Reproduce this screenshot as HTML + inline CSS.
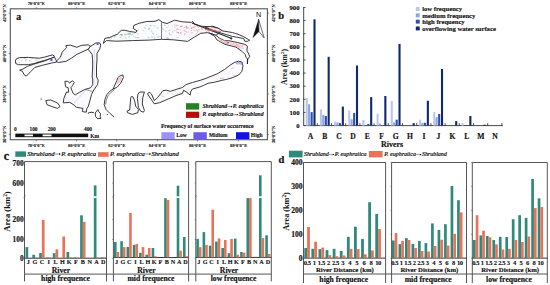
<!DOCTYPE html>
<html><head><meta charset="utf-8"><style>
html,body{margin:0;padding:0;background:#fff;width:550px;height:285px;overflow:hidden}
svg{display:block}
</style></head><body>
<svg width="550" height="285" viewBox="0 0 550 285">
<rect width="550" height="285" fill="#fff"/>
<line x1="36.20" y1="7.20" x2="36.20" y2="8.80" stroke="#444" stroke-width="0.6" />
<line x1="36.20" y1="139.70" x2="36.20" y2="141.30" stroke="#444" stroke-width="0.6" />
<text x="36.20" y="5.40" font-family='"Liberation Serif", serif' font-size="4.4" font-weight="bold" font-style="normal" text-anchor="middle" fill="#222" stroke="#222" stroke-width="0.15">78°0'0"E</text>
<text x="36.20" y="147.00" font-family='"Liberation Serif", serif' font-size="4.4" font-weight="bold" font-style="normal" text-anchor="middle" fill="#222" stroke="#222" stroke-width="0.15">78°0'0"E</text>
<line x1="76.60" y1="7.20" x2="76.60" y2="8.80" stroke="#444" stroke-width="0.6" />
<line x1="76.60" y1="139.70" x2="76.60" y2="141.30" stroke="#444" stroke-width="0.6" />
<text x="76.60" y="5.40" font-family='"Liberation Serif", serif' font-size="4.4" font-weight="bold" font-style="normal" text-anchor="middle" fill="#222" stroke="#222" stroke-width="0.15">80°0'0"E</text>
<text x="76.60" y="147.00" font-family='"Liberation Serif", serif' font-size="4.4" font-weight="bold" font-style="normal" text-anchor="middle" fill="#222" stroke="#222" stroke-width="0.15">80°0'0"E</text>
<line x1="116.80" y1="7.20" x2="116.80" y2="8.80" stroke="#444" stroke-width="0.6" />
<line x1="116.80" y1="139.70" x2="116.80" y2="141.30" stroke="#444" stroke-width="0.6" />
<text x="116.80" y="5.40" font-family='"Liberation Serif", serif' font-size="4.4" font-weight="bold" font-style="normal" text-anchor="middle" fill="#222" stroke="#222" stroke-width="0.15">82°0'0"E</text>
<text x="116.80" y="147.00" font-family='"Liberation Serif", serif' font-size="4.4" font-weight="bold" font-style="normal" text-anchor="middle" fill="#222" stroke="#222" stroke-width="0.15">82°0'0"E</text>
<line x1="157.40" y1="7.20" x2="157.40" y2="8.80" stroke="#444" stroke-width="0.6" />
<line x1="157.40" y1="139.70" x2="157.40" y2="141.30" stroke="#444" stroke-width="0.6" />
<text x="157.40" y="5.40" font-family='"Liberation Serif", serif' font-size="4.4" font-weight="bold" font-style="normal" text-anchor="middle" fill="#222" stroke="#222" stroke-width="0.15">84°0'0"E</text>
<text x="157.40" y="147.00" font-family='"Liberation Serif", serif' font-size="4.4" font-weight="bold" font-style="normal" text-anchor="middle" fill="#222" stroke="#222" stroke-width="0.15">84°0'0"E</text>
<line x1="197.60" y1="7.20" x2="197.60" y2="8.80" stroke="#444" stroke-width="0.6" />
<line x1="197.60" y1="139.70" x2="197.60" y2="141.30" stroke="#444" stroke-width="0.6" />
<text x="197.60" y="5.40" font-family='"Liberation Serif", serif' font-size="4.4" font-weight="bold" font-style="normal" text-anchor="middle" fill="#222" stroke="#222" stroke-width="0.15">86°0'0"E</text>
<text x="197.60" y="147.00" font-family='"Liberation Serif", serif' font-size="4.4" font-weight="bold" font-style="normal" text-anchor="middle" fill="#222" stroke="#222" stroke-width="0.15">86°0'0"E</text>
<line x1="238.50" y1="7.20" x2="238.50" y2="8.80" stroke="#444" stroke-width="0.6" />
<line x1="238.50" y1="139.70" x2="238.50" y2="141.30" stroke="#444" stroke-width="0.6" />
<text x="238.50" y="5.40" font-family='"Liberation Serif", serif' font-size="4.4" font-weight="bold" font-style="normal" text-anchor="middle" fill="#222" stroke="#222" stroke-width="0.15">88°0'0"E</text>
<text x="238.50" y="147.00" font-family='"Liberation Serif", serif' font-size="4.4" font-weight="bold" font-style="normal" text-anchor="middle" fill="#222" stroke="#222" stroke-width="0.15">88°0'0"E</text>
<line x1="8.70" y1="13.10" x2="10.30" y2="13.10" stroke="#444" stroke-width="0.6" />
<line x1="267.40" y1="13.10" x2="269.00" y2="13.10" stroke="#444" stroke-width="0.6" />
<text x="0.00" y="0.00" font-family='"Liberation Serif", serif' font-size="4.4" font-weight="bold" font-style="normal" text-anchor="middle" fill="#222" stroke="#222" stroke-width="0.15" transform="translate(6.0,13.1) rotate(-90)">42°0'0"N</text>
<text x="0.00" y="0.00" font-family='"Liberation Serif", serif' font-size="4.4" font-weight="bold" font-style="normal" text-anchor="middle" fill="#222" stroke="#222" stroke-width="0.15" transform="translate(274.6,13.1) rotate(-90)">42°0'0"N</text>
<line x1="8.70" y1="53.60" x2="10.30" y2="53.60" stroke="#444" stroke-width="0.6" />
<line x1="267.40" y1="53.60" x2="269.00" y2="53.60" stroke="#444" stroke-width="0.6" />
<text x="0.00" y="0.00" font-family='"Liberation Serif", serif' font-size="4.4" font-weight="bold" font-style="normal" text-anchor="middle" fill="#222" stroke="#222" stroke-width="0.15" transform="translate(6.0,53.6) rotate(-90)">40°0'0"N</text>
<text x="0.00" y="0.00" font-family='"Liberation Serif", serif' font-size="4.4" font-weight="bold" font-style="normal" text-anchor="middle" fill="#222" stroke="#222" stroke-width="0.15" transform="translate(274.6,53.6) rotate(-90)">40°0'0"N</text>
<line x1="8.70" y1="94.00" x2="10.30" y2="94.00" stroke="#444" stroke-width="0.6" />
<line x1="267.40" y1="94.00" x2="269.00" y2="94.00" stroke="#444" stroke-width="0.6" />
<text x="0.00" y="0.00" font-family='"Liberation Serif", serif' font-size="4.4" font-weight="bold" font-style="normal" text-anchor="middle" fill="#222" stroke="#222" stroke-width="0.15" transform="translate(6.0,94.0) rotate(-90)">38°0'0"N</text>
<text x="0.00" y="0.00" font-family='"Liberation Serif", serif' font-size="4.4" font-weight="bold" font-style="normal" text-anchor="middle" fill="#222" stroke="#222" stroke-width="0.15" transform="translate(274.6,94.0) rotate(-90)">38°0'0"N</text>
<line x1="8.70" y1="134.40" x2="10.30" y2="134.40" stroke="#444" stroke-width="0.6" />
<line x1="267.40" y1="134.40" x2="269.00" y2="134.40" stroke="#444" stroke-width="0.6" />
<text x="0.00" y="0.00" font-family='"Liberation Serif", serif' font-size="4.4" font-weight="bold" font-style="normal" text-anchor="middle" fill="#222" stroke="#222" stroke-width="0.15" transform="translate(6.0,134.4) rotate(-90)">36°0'0"N</text>
<text x="0.00" y="0.00" font-family='"Liberation Serif", serif' font-size="4.4" font-weight="bold" font-style="normal" text-anchor="middle" fill="#222" stroke="#222" stroke-width="0.15" transform="translate(274.6,134.4) rotate(-90)">36°0'0"N</text>
<rect x="10.3" y="8.8" width="0" height="0" fill="none"/>
<rect x="10.3" y="8.8" width="257.10" height="130.90" fill="none" stroke="#555" stroke-width="1.1"/>
<text x="16.20" y="20.30" font-family='"Liberation Serif", serif' font-size="9.8" font-weight="bold" font-style="normal" text-anchor="start" fill="#111"  stroke="#111" stroke-width="0.216">a</text>
<polygon points="15.3,60.9 16.4,58.7 19.6,57.6 28.4,57.4 34.9,57.9 39.3,58.2 44.7,57.1 52.3,54.9 54.5,56.0 53.4,57.6 44.7,60.4 33.8,63.6 28.4,64.7 18.5,64.7 15.8,63.6" stroke="#262626" stroke-width="0.9" fill="#fafafe" stroke-linejoin="round" />
<polygon points="19.6,70.2 22.9,69.1 27.3,66.4 33.8,64.2 44.7,60.9 50.2,58.7 54.5,57.1 56.2,60.4 56.7,62.0 51.3,63.1 42.5,65.3 34.9,67.4 30.5,71.8 26.2,76.2 24.0,74.5 22.4,71.3" stroke="#262626" stroke-width="0.9" fill="#fafafe" stroke-linejoin="round" />
<polygon points="56.1,61.4 60.5,57.1 62.1,52.2 66.5,47.8 65.9,45.6 70.3,45.1 76.8,47.3 81.2,45.4 88.3,44.8 90.4,46.2 88.8,48.9 76.8,54.4 71.4,58.2 65.9,61.4 58.3,62.5" stroke="#262626" stroke-width="0.9" fill="#fafafe" stroke-linejoin="round" />
<polygon points="89.9,46.7 92.6,45.1 95.9,42.9 99.7,42.9 100.8,45.1 99.7,48.9 97.0,53.3 97.0,59.8 96.5,66.0 96.5,76.9 98.2,80.2 97.6,84.5 93.8,90.0 91.6,94.4 88.4,106.2 86.7,108.9 86.2,112.2 82.4,111.6 82.9,108.4 76.4,107.3 74.2,105.1 69.8,102.4 63.3,102.9 63.8,98.5 66.5,92.0 68.7,92.2 68.2,87.8 65.5,86.7 64.9,81.3 67.6,81.3 69.8,82.9 72.5,80.7 74.2,82.4 72.5,85.6 70.9,87.8 73.1,93.3 75.3,94.9 79.6,92.2 85.1,89.4 90.5,87.8 92.7,84.5 92.7,79.1 92.2,76.9 92.7,66.0 92.6,59.8 92.1,54.4 88.3,49.5" stroke="#262626" stroke-width="0.9" fill="#fafafe" stroke-linejoin="round" />
<polygon points="45.8,100.6 50.5,99.9 57.6,103.0 60.0,106.5 57.6,108.4 51.7,106.5 47.0,104.7" stroke="#262626" stroke-width="0.9" fill="#fafafe" stroke-linejoin="round" />
<polygon points="95.2,113.0 97.9,109.5 98.8,111.8 100.6,113.5 100.2,116.5 101.0,118.4 97.4,118.6 95.6,116.6" stroke="#262626" stroke-width="0.9" fill="#fafafe" stroke-linejoin="round" />
<polygon points="122.9,74.9 123.4,77.6 120.7,83.1 116.9,87.4 113.1,89.1 116.9,80.4 118.0,77.6 119.6,76.0" stroke="#262626" stroke-width="0.9" fill="#fafafe" stroke-linejoin="round" />
<polygon points="131.4,96.4 133.0,96.9 134.6,100.7 135.7,106.2 138.4,109.4 137.9,112.7 132.4,114.4 127.5,112.7 127.0,111.1 129.7,110.0 130.3,102.9 130.8,97.5" stroke="#262626" stroke-width="0.9" fill="#fafafe" stroke-linejoin="round" />
<polygon points="137.9,94.2 139.5,92.0 144.4,92.0 142.8,97.5 142.3,104.0 144.4,110.5 143.4,112.2 140.6,111.1 138.4,107.3 137.4,98.5" stroke="#262626" stroke-width="0.9" fill="#fafafe" stroke-linejoin="round" />
<polygon points="148.2,92.9 149.8,92.4 151.5,94.0 154.2,100.5 157.4,97.8 162.9,90.7 166.2,90.2 170.5,91.3 177.1,89.1 182.5,87.5 185.8,84.7 192.3,82.5 200.0,80.4 205.9,78.4 216.8,74.0 224.4,69.6 229.9,65.3 234.3,62.5 238.6,61.2 241.9,62.0 243.0,65.8 241.9,71.3 238.6,75.1 232.1,77.8 226.6,79.4 221.2,80.5 214.6,82.2 208.1,83.3 203.7,85.4 200.0,86.9 192.3,89.1 190.7,91.8 190.2,95.1 186.9,92.4 183.6,90.2 182.5,93.4 176.0,95.6 168.4,98.9 159.6,102.7 154.2,103.8 147.6,94.0" stroke="#262626" stroke-width="0.9" fill="#fafafe" stroke-linejoin="round" />
<polygon points="103.3,43.4 104.9,38.4 109.8,37.4 117.4,34.1 121.3,30.3 125.1,30.3 129.4,31.4 136.0,32.4 137.1,30.8 133.3,28.6 133.8,25.4 139.3,23.2 146.9,21.5 155.0,21.3 158.8,19.6 162.6,22.4 167.0,23.5 174.6,20.2 182.3,21.8 191.5,22.4 192.6,21.3 194.3,24.0 200.8,26.2 209.5,26.7 212.8,26.2 218.1,28.2 222.4,30.9 215.9,35.3 209.4,33.1 207.3,32.7 200.8,33.3 194.3,37.1 187.7,41.4 173.5,39.8 161.5,39.3 149.1,40.1 132.7,40.6 116.4,41.2 106.5,40.6" stroke="#262626" stroke-width="0.9" fill="#fafafe" stroke-linejoin="round" />
<polygon points="205.0,27.1 210.5,26.5 218.1,28.2 222.4,30.9 232.3,32.5 237.7,34.2 243.2,36.4 248.6,39.6 249.7,40.2 247.5,41.3 244.8,41.3 243.7,38.5 237.7,37.4 232.3,36.4 226.8,34.7 215.9,31.5" stroke="#262626" stroke-width="0.9" fill="#fafafe" stroke-linejoin="round" />
<polygon points="209.4,33.1 215.9,35.3 219.2,38.0 224.6,40.7 228.7,40.7 237.8,42.6 245.1,44.4 247.4,46.2 246.9,50.8 248.8,54.0 249.7,56.7 247.8,59.0 247.4,59.0 246.0,57.2 245.1,54.4 242.4,51.7 236.0,47.1 225.0,44.4 216.8,39.8 214.8,36.4" stroke="#262626" stroke-width="0.9" fill="#fafafe" stroke-linejoin="round" />
<line x1="161.50" y1="22.40" x2="161.50" y2="39.30" stroke="#2a2a2a" stroke-width="0.6" />
<line x1="192" y1="22.9" x2="231.7" y2="38.5" stroke="#222" stroke-width="1.1"/>
<line x1="205" y1="29.4" x2="221" y2="31.6" stroke="#d86a6a" stroke-width="1.3" opacity="0.75"/>
<polygon points="219,38.6 228,41.4 237,43.6 244,45.5 241,48.5 233,45.8 224,43 217,40" fill="#eeb8b8" opacity="0.55"/>
<circle cx="231.3" cy="38.5" r="1.1" fill="#222"/>
<line x1="247.6" y1="59" x2="247.4" y2="64" stroke="#222" stroke-width="1.2"/>
<polyline points="87.8,113.3 89.5,112.6 91.6,112.2 93.8,112.7" stroke="#222" stroke-width="1.0" fill="none" stroke-linejoin="round" />
<rect x="40.60" y="98.60" width="1.20" height="0.90" fill="#222" />
<polyline points="113.5,88.7 109.8,91.2 106.7,94.8 104.8,99.8 104.2,104.7 106.1,109.6 109.8,113.3 114.1,117.0" stroke="#2a2a2a" stroke-width="0.9" fill="none" stroke-linejoin="round" />
<polyline points="114.5,89.5 111.0,92.3 108.0,95.8 106.2,100.3 105.6,104.5" stroke="#2a2a2a" stroke-width="0.6" fill="none" stroke-linejoin="round" />
<rect x="106.80" y="114.00" width="1.00" height="1.00" fill="#333" />
<line x1="85.10" y1="89.40" x2="92.70" y2="91.60" stroke="#2a2a2a" stroke-width="0.5" />
<line x1="74" y1="103" x2="86" y2="90" stroke="#a09be0" stroke-width="0.5" opacity="0.7"/>
<line x1="94.5" y1="50" x2="94" y2="88" stroke="#a09be0" stroke-width="0.6" opacity="0.5"/>
<clipPath id="mapclip"><polygon points="15.3,60.9 16.4,58.7 19.6,57.6 28.4,57.4 34.9,57.9 39.3,58.2 44.7,57.1 52.3,54.9 54.5,56.0 53.4,57.6 44.7,60.4 33.8,63.6 28.4,64.7 18.5,64.7 15.8,63.6"/><polygon points="19.6,70.2 22.9,69.1 27.3,66.4 33.8,64.2 44.7,60.9 50.2,58.7 54.5,57.1 56.2,60.4 56.7,62.0 51.3,63.1 42.5,65.3 34.9,67.4 30.5,71.8 26.2,76.2 24.0,74.5 22.4,71.3"/><polygon points="56.1,61.4 60.5,57.1 62.1,52.2 66.5,47.8 65.9,45.6 70.3,45.1 76.8,47.3 81.2,45.4 88.3,44.8 90.4,46.2 88.8,48.9 76.8,54.4 71.4,58.2 65.9,61.4 58.3,62.5"/><polygon points="89.9,46.7 92.6,45.1 95.9,42.9 99.7,42.9 100.8,45.1 99.7,48.9 97.0,53.3 97.0,59.8 96.5,66.0 96.5,76.9 98.2,80.2 97.6,84.5 93.8,90.0 91.6,94.4 88.4,106.2 86.7,108.9 86.2,112.2 82.4,111.6 82.9,108.4 76.4,107.3 74.2,105.1 69.8,102.4 63.3,102.9 63.8,98.5 66.5,92.0 68.7,92.2 68.2,87.8 65.5,86.7 64.9,81.3 67.6,81.3 69.8,82.9 72.5,80.7 74.2,82.4 72.5,85.6 70.9,87.8 73.1,93.3 75.3,94.9 79.6,92.2 85.1,89.4 90.5,87.8 92.7,84.5 92.7,79.1 92.2,76.9 92.7,66.0 92.6,59.8 92.1,54.4 88.3,49.5"/><polygon points="45.8,100.6 50.5,99.9 57.6,103.0 60.0,106.5 57.6,108.4 51.7,106.5 47.0,104.7"/><polygon points="95.2,113.0 97.9,109.5 98.8,111.8 100.6,113.5 100.2,116.5 101.0,118.4 97.4,118.6 95.6,116.6"/><polygon points="122.9,74.9 123.4,77.6 120.7,83.1 116.9,87.4 113.1,89.1 116.9,80.4 118.0,77.6 119.6,76.0"/><polygon points="131.4,96.4 133.0,96.9 134.6,100.7 135.7,106.2 138.4,109.4 137.9,112.7 132.4,114.4 127.5,112.7 127.0,111.1 129.7,110.0 130.3,102.9 130.8,97.5"/><polygon points="137.9,94.2 139.5,92.0 144.4,92.0 142.8,97.5 142.3,104.0 144.4,110.5 143.4,112.2 140.6,111.1 138.4,107.3 137.4,98.5"/><polygon points="148.2,92.9 149.8,92.4 151.5,94.0 154.2,100.5 157.4,97.8 162.9,90.7 166.2,90.2 170.5,91.3 177.1,89.1 182.5,87.5 185.8,84.7 192.3,82.5 200.0,80.4 205.9,78.4 216.8,74.0 224.4,69.6 229.9,65.3 234.3,62.5 238.6,61.2 241.9,62.0 243.0,65.8 241.9,71.3 238.6,75.1 232.1,77.8 226.6,79.4 221.2,80.5 214.6,82.2 208.1,83.3 203.7,85.4 200.0,86.9 192.3,89.1 190.7,91.8 190.2,95.1 186.9,92.4 183.6,90.2 182.5,93.4 176.0,95.6 168.4,98.9 159.6,102.7 154.2,103.8 147.6,94.0"/><polygon points="103.3,43.4 104.9,38.4 109.8,37.4 117.4,34.1 121.3,30.3 125.1,30.3 129.4,31.4 136.0,32.4 137.1,30.8 133.3,28.6 133.8,25.4 139.3,23.2 146.9,21.5 155.0,21.3 158.8,19.6 162.6,22.4 167.0,23.5 174.6,20.2 182.3,21.8 191.5,22.4 192.6,21.3 194.3,24.0 200.8,26.2 209.5,26.7 212.8,26.2 218.1,28.2 222.4,30.9 215.9,35.3 209.4,33.1 207.3,32.7 200.8,33.3 194.3,37.1 187.7,41.4 173.5,39.8 161.5,39.3 149.1,40.1 132.7,40.6 116.4,41.2 106.5,40.6"/><polygon points="205.0,27.1 210.5,26.5 218.1,28.2 222.4,30.9 232.3,32.5 237.7,34.2 243.2,36.4 248.6,39.6 249.7,40.2 247.5,41.3 244.8,41.3 243.7,38.5 237.7,37.4 232.3,36.4 226.8,34.7 215.9,31.5"/><polygon points="209.4,33.1 215.9,35.3 219.2,38.0 224.6,40.7 228.7,40.7 237.8,42.6 245.1,44.4 247.4,46.2 246.9,50.8 248.8,54.0 249.7,56.7 247.8,59.0 247.4,59.0 246.0,57.2 245.1,54.4 242.4,51.7 236.0,47.1 225.0,44.4 216.8,39.8 214.8,36.4"/></clipPath>
<g clip-path="url(#mapclip)">
<line x1="124.2" y1="36.0" x2="125.5" y2="36.2" stroke="#3c8c3c" stroke-width="0.6" opacity="0.55"/>
<line x1="150.5" y1="25.9" x2="151.4" y2="26.4" stroke="#3c8c3c" stroke-width="0.6" opacity="0.55"/>
<line x1="125.6" y1="34.3" x2="127.8" y2="34.2" stroke="#3c8c3c" stroke-width="0.6" opacity="0.55"/>
<line x1="164.9" y1="31.4" x2="166.6" y2="30.9" stroke="#3c8c3c" stroke-width="0.6" opacity="0.55"/>
<line x1="151.2" y1="36.7" x2="152.7" y2="37.1" stroke="#3c8c3c" stroke-width="0.6" opacity="0.55"/>
<line x1="153.7" y1="25.9" x2="155.5" y2="26.0" stroke="#3c8c3c" stroke-width="0.6" opacity="0.55"/>
<line x1="128.5" y1="33.2" x2="130.5" y2="33.1" stroke="#3c8c3c" stroke-width="0.6" opacity="0.55"/>
<line x1="156.9" y1="36.9" x2="158.7" y2="37.5" stroke="#3c8c3c" stroke-width="0.6" opacity="0.55"/>
<line x1="134.9" y1="37.4" x2="136.3" y2="38.1" stroke="#3c8c3c" stroke-width="0.6" opacity="0.55"/>
<line x1="167.8" y1="26.3" x2="168.8" y2="25.9" stroke="#3c8c3c" stroke-width="0.6" opacity="0.55"/>
<line x1="173.7" y1="30.9" x2="175.3" y2="30.6" stroke="#3c8c3c" stroke-width="0.6" opacity="0.55"/>
<line x1="142.5" y1="30.2" x2="143.8" y2="30.3" stroke="#3c8c3c" stroke-width="0.6" opacity="0.55"/>
<line x1="147.7" y1="37.2" x2="149.5" y2="37.9" stroke="#3c8c3c" stroke-width="0.6" opacity="0.55"/>
<line x1="166.2" y1="38.4" x2="168.0" y2="37.8" stroke="#3c8c3c" stroke-width="0.6" opacity="0.55"/>
<line x1="166.5" y1="38.0" x2="168.6" y2="38.1" stroke="#3c8c3c" stroke-width="0.6" opacity="0.55"/>
<line x1="156.5" y1="27.9" x2="158.5" y2="28.0" stroke="#3c8c3c" stroke-width="0.6" opacity="0.55"/>
<line x1="127.4" y1="33.3" x2="129.4" y2="34.1" stroke="#3c8c3c" stroke-width="0.6" opacity="0.55"/>
<line x1="114.0" y1="37.4" x2="115.4" y2="36.8" stroke="#3c8c3c" stroke-width="0.6" opacity="0.55"/>
<line x1="128.0" y1="37.2" x2="130.0" y2="36.5" stroke="#3c8c3c" stroke-width="0.6" opacity="0.55"/>
<line x1="149.8" y1="25.6" x2="151.6" y2="25.3" stroke="#3c8c3c" stroke-width="0.6" opacity="0.55"/>
<line x1="167.9" y1="38.2" x2="169.4" y2="39.0" stroke="#3c8c3c" stroke-width="0.6" opacity="0.55"/>
<line x1="129.1" y1="33.4" x2="130.7" y2="32.7" stroke="#3c8c3c" stroke-width="0.6" opacity="0.55"/>
<line x1="121.4" y1="35.2" x2="123.1" y2="34.7" stroke="#3c8c3c" stroke-width="0.6" opacity="0.55"/>
<line x1="110.9" y1="37.8" x2="112.1" y2="38.5" stroke="#3c8c3c" stroke-width="0.6" opacity="0.55"/>
<line x1="169.0" y1="30.1" x2="170.4" y2="30.1" stroke="#3c8c3c" stroke-width="0.6" opacity="0.55"/>
<line x1="151.8" y1="33.0" x2="153.4" y2="33.2" stroke="#3c8c3c" stroke-width="0.6" opacity="0.55"/>
<line x1="172.0" y1="31.8" x2="173.4" y2="32.2" stroke="#3c8c3c" stroke-width="0.6" opacity="0.55"/>
<line x1="124.2" y1="34.7" x2="126.3" y2="34.7" stroke="#3c8c3c" stroke-width="0.6" opacity="0.55"/>
<line x1="145.3" y1="25.2" x2="146.7" y2="25.3" stroke="#3c8c3c" stroke-width="0.6" opacity="0.55"/>
<line x1="109.4" y1="36.4" x2="111.0" y2="35.7" stroke="#3c8c3c" stroke-width="0.6" opacity="0.55"/>
<line x1="150.7" y1="31.3" x2="152.4" y2="31.1" stroke="#3c8c3c" stroke-width="0.6" opacity="0.55"/>
<line x1="156.1" y1="35.0" x2="156.9" y2="34.3" stroke="#3c8c3c" stroke-width="0.6" opacity="0.55"/>
<line x1="154.0" y1="38.0" x2="155.1" y2="37.9" stroke="#3c8c3c" stroke-width="0.6" opacity="0.55"/>
<line x1="148.3" y1="29.3" x2="149.6" y2="29.0" stroke="#3c8c3c" stroke-width="0.6" opacity="0.55"/>
<line x1="133.1" y1="36.3" x2="134.3" y2="36.1" stroke="#3c8c3c" stroke-width="0.6" opacity="0.55"/>
<line x1="160.5" y1="25.4" x2="162.1" y2="25.7" stroke="#3c8c3c" stroke-width="0.6" opacity="0.55"/>
<line x1="129.1" y1="34.2" x2="131.0" y2="33.8" stroke="#3c8c3c" stroke-width="0.6" opacity="0.55"/>
<line x1="120.7" y1="35.4" x2="122.5" y2="34.8" stroke="#3c8c3c" stroke-width="0.6" opacity="0.55"/>
<line x1="129.9" y1="34.8" x2="131.9" y2="34.7" stroke="#3c8c3c" stroke-width="0.6" opacity="0.55"/>
<line x1="166.2" y1="27.3" x2="167.4" y2="27.5" stroke="#3c8c3c" stroke-width="0.6" opacity="0.55"/>
<line x1="168.2" y1="31.1" x2="169.3" y2="30.5" stroke="#3c8c3c" stroke-width="0.6" opacity="0.55"/>
<line x1="144.0" y1="27.6" x2="145.9" y2="28.1" stroke="#3c8c3c" stroke-width="0.6" opacity="0.55"/>
<line x1="120.5" y1="34.5" x2="122.4" y2="34.8" stroke="#3c8c3c" stroke-width="0.6" opacity="0.55"/>
<line x1="162.8" y1="29.7" x2="163.8" y2="29.3" stroke="#3c8c3c" stroke-width="0.6" opacity="0.55"/>
<line x1="162.0" y1="28.7" x2="163.3" y2="28.5" stroke="#3c8c3c" stroke-width="0.6" opacity="0.55"/>
<line x1="136.5" y1="30.5" x2="138.6" y2="30.0" stroke="#3c8c3c" stroke-width="0.6" opacity="0.55"/>
<line x1="108.3" y1="38.2" x2="110.3" y2="39.0" stroke="#3c8c3c" stroke-width="0.6" opacity="0.55"/>
<line x1="137.5" y1="37.8" x2="139.6" y2="37.4" stroke="#3c8c3c" stroke-width="0.6" opacity="0.55"/>
<line x1="158.7" y1="36.3" x2="160.4" y2="36.3" stroke="#3c8c3c" stroke-width="0.6" opacity="0.55"/>
<line x1="127.7" y1="34.9" x2="128.8" y2="34.2" stroke="#3c8c3c" stroke-width="0.6" opacity="0.55"/>
<line x1="148.0" y1="28.9" x2="150.0" y2="28.1" stroke="#3c8c3c" stroke-width="0.6" opacity="0.55"/>
<line x1="169.4" y1="34.4" x2="171.5" y2="35.0" stroke="#3c8c3c" stroke-width="0.6" opacity="0.55"/>
<line x1="169.2" y1="32.8" x2="170.0" y2="33.2" stroke="#3c8c3c" stroke-width="0.6" opacity="0.55"/>
<line x1="119.7" y1="34.6" x2="121.4" y2="34.7" stroke="#3c8c3c" stroke-width="0.6" opacity="0.55"/>
<line x1="136.1" y1="37.7" x2="137.8" y2="37.4" stroke="#3c8c3c" stroke-width="0.6" opacity="0.55"/>
<line x1="125.2" y1="37.7" x2="126.6" y2="38.2" stroke="#3c8c3c" stroke-width="0.6" opacity="0.55"/>
<line x1="131.9" y1="34.1" x2="133.5" y2="34.6" stroke="#3c8c3c" stroke-width="0.6" opacity="0.55"/>
<line x1="119.6" y1="37.4" x2="121.7" y2="37.8" stroke="#3c8c3c" stroke-width="0.6" opacity="0.55"/>
<line x1="164.0" y1="25.1" x2="165.7" y2="25.7" stroke="#3c8c3c" stroke-width="0.6" opacity="0.55"/>
<line x1="111.4" y1="34.5" x2="112.6" y2="34.5" stroke="#3c8c3c" stroke-width="0.6" opacity="0.55"/>
<line x1="190.6" y1="28.7" x2="192.5" y2="27.9" stroke="#d83a3a" stroke-width="0.6" opacity="0.55"/>
<line x1="174.4" y1="25.3" x2="175.4" y2="24.6" stroke="#d83a3a" stroke-width="0.6" opacity="0.55"/>
<line x1="214.9" y1="32.5" x2="215.8" y2="32.5" stroke="#d83a3a" stroke-width="0.6" opacity="0.55"/>
<line x1="185.9" y1="27.1" x2="187.2" y2="27.4" stroke="#d83a3a" stroke-width="0.6" opacity="0.55"/>
<line x1="197.8" y1="27.6" x2="198.9" y2="27.3" stroke="#d83a3a" stroke-width="0.6" opacity="0.55"/>
<line x1="177.4" y1="29.6" x2="179.2" y2="29.4" stroke="#d83a3a" stroke-width="0.6" opacity="0.55"/>
<line x1="175.5" y1="25.8" x2="176.8" y2="26.0" stroke="#d83a3a" stroke-width="0.6" opacity="0.55"/>
<line x1="206.4" y1="27.8" x2="208.4" y2="28.0" stroke="#d83a3a" stroke-width="0.6" opacity="0.55"/>
<line x1="191.0" y1="27.7" x2="192.5" y2="28.0" stroke="#d83a3a" stroke-width="0.6" opacity="0.55"/>
<line x1="190.5" y1="30.9" x2="191.9" y2="30.5" stroke="#d83a3a" stroke-width="0.6" opacity="0.55"/>
<line x1="195.6" y1="31.0" x2="196.5" y2="30.8" stroke="#d83a3a" stroke-width="0.6" opacity="0.55"/>
<line x1="190.7" y1="32.8" x2="192.8" y2="32.6" stroke="#d83a3a" stroke-width="0.6" opacity="0.55"/>
<line x1="211.5" y1="31.9" x2="212.7" y2="31.9" stroke="#d83a3a" stroke-width="0.6" opacity="0.55"/>
<line x1="177.4" y1="32.1" x2="179.1" y2="32.8" stroke="#d83a3a" stroke-width="0.6" opacity="0.55"/>
<line x1="206.9" y1="30.7" x2="208.7" y2="30.8" stroke="#d83a3a" stroke-width="0.6" opacity="0.55"/>
<line x1="176.5" y1="29.9" x2="177.3" y2="29.3" stroke="#d83a3a" stroke-width="0.6" opacity="0.55"/>
<line x1="206.1" y1="24.4" x2="207.0" y2="23.8" stroke="#d83a3a" stroke-width="0.6" opacity="0.55"/>
<line x1="210.7" y1="25.8" x2="211.6" y2="26.3" stroke="#d83a3a" stroke-width="0.6" opacity="0.55"/>
<line x1="177.3" y1="32.4" x2="179.1" y2="33.0" stroke="#d83a3a" stroke-width="0.6" opacity="0.55"/>
<line x1="213.9" y1="29.8" x2="215.8" y2="29.0" stroke="#d83a3a" stroke-width="0.6" opacity="0.55"/>
<line x1="205.8" y1="29.1" x2="207.6" y2="28.5" stroke="#d83a3a" stroke-width="0.6" opacity="0.55"/>
<line x1="205.0" y1="33.3" x2="205.8" y2="33.1" stroke="#d83a3a" stroke-width="0.6" opacity="0.55"/>
<line x1="196.8" y1="32.3" x2="198.0" y2="31.8" stroke="#d83a3a" stroke-width="0.6" opacity="0.55"/>
<line x1="183.0" y1="30.2" x2="184.9" y2="30.0" stroke="#d83a3a" stroke-width="0.6" opacity="0.55"/>
<line x1="188.2" y1="28.0" x2="189.5" y2="27.8" stroke="#d83a3a" stroke-width="0.6" opacity="0.55"/>
<line x1="175.7" y1="29.0" x2="177.8" y2="28.9" stroke="#d83a3a" stroke-width="0.6" opacity="0.55"/>
<line x1="204.9" y1="25.6" x2="206.7" y2="26.0" stroke="#d83a3a" stroke-width="0.6" opacity="0.55"/>
<line x1="201.6" y1="29.2" x2="203.1" y2="29.4" stroke="#d83a3a" stroke-width="0.6" opacity="0.55"/>
<line x1="211.5" y1="25.5" x2="212.4" y2="25.9" stroke="#d83a3a" stroke-width="0.6" opacity="0.55"/>
<line x1="212.3" y1="29.2" x2="213.8" y2="29.5" stroke="#d83a3a" stroke-width="0.6" opacity="0.55"/>
<line x1="180.2" y1="26.7" x2="181.3" y2="26.8" stroke="#d83a3a" stroke-width="0.6" opacity="0.55"/>
<line x1="185.9" y1="26.3" x2="187.6" y2="27.0" stroke="#d83a3a" stroke-width="0.6" opacity="0.55"/>
<line x1="185.0" y1="31.1" x2="186.4" y2="31.6" stroke="#d83a3a" stroke-width="0.6" opacity="0.55"/>
<line x1="197.7" y1="26.7" x2="198.8" y2="25.9" stroke="#d83a3a" stroke-width="0.6" opacity="0.55"/>
<line x1="193.1" y1="27.8" x2="194.1" y2="27.6" stroke="#d83a3a" stroke-width="0.6" opacity="0.55"/>
<line x1="186.2" y1="31.7" x2="187.2" y2="32.5" stroke="#d83a3a" stroke-width="0.6" opacity="0.55"/>
<line x1="193.1" y1="30.0" x2="194.6" y2="30.5" stroke="#d83a3a" stroke-width="0.6" opacity="0.55"/>
<line x1="208.2" y1="29.6" x2="209.6" y2="29.9" stroke="#d83a3a" stroke-width="0.6" opacity="0.55"/>
<line x1="209.7" y1="28.0" x2="211.5" y2="28.7" stroke="#d83a3a" stroke-width="0.6" opacity="0.55"/>
<line x1="192.6" y1="26.3" x2="193.7" y2="26.6" stroke="#d83a3a" stroke-width="0.6" opacity="0.55"/>
<line x1="201.7" y1="33.6" x2="203.7" y2="33.2" stroke="#d83a3a" stroke-width="0.6" opacity="0.55"/>
<line x1="180.3" y1="26.6" x2="181.4" y2="26.9" stroke="#d83a3a" stroke-width="0.6" opacity="0.55"/>
<line x1="209.8" y1="33.0" x2="210.9" y2="33.6" stroke="#d83a3a" stroke-width="0.6" opacity="0.55"/>
<line x1="185.8" y1="28.2" x2="187.6" y2="27.6" stroke="#d83a3a" stroke-width="0.6" opacity="0.55"/>
<line x1="176.1" y1="32.3" x2="177.3" y2="32.1" stroke="#d83a3a" stroke-width="0.6" opacity="0.55"/>
<line x1="197.5" y1="30.8" x2="198.3" y2="30.5" stroke="#d83a3a" stroke-width="0.6" opacity="0.55"/>
<line x1="191.2" y1="28.9" x2="192.3" y2="29.0" stroke="#d83a3a" stroke-width="0.6" opacity="0.55"/>
<line x1="214.0" y1="27.9" x2="215.6" y2="27.3" stroke="#d83a3a" stroke-width="0.6" opacity="0.55"/>
<line x1="184.1" y1="30.7" x2="185.0" y2="31.3" stroke="#d83a3a" stroke-width="0.6" opacity="0.55"/>
<line x1="212.0" y1="25.0" x2="214.1" y2="24.8" stroke="#d83a3a" stroke-width="0.6" opacity="0.55"/>
<line x1="206.0" y1="31.6" x2="207.2" y2="31.9" stroke="#d83a3a" stroke-width="0.6" opacity="0.55"/>
<line x1="200.8" y1="32.1" x2="202.0" y2="32.5" stroke="#d83a3a" stroke-width="0.6" opacity="0.55"/>
<line x1="214.3" y1="30.7" x2="215.8" y2="30.1" stroke="#d83a3a" stroke-width="0.6" opacity="0.55"/>
<line x1="193.7" y1="27.5" x2="195.5" y2="27.8" stroke="#d83a3a" stroke-width="0.6" opacity="0.55"/>
<line x1="196.9" y1="25.8" x2="198.6" y2="26.0" stroke="#d83a3a" stroke-width="0.6" opacity="0.55"/>
<line x1="179.9" y1="32.9" x2="181.6" y2="32.3" stroke="#d83a3a" stroke-width="0.6" opacity="0.55"/>
<line x1="213.0" y1="25.4" x2="214.3" y2="25.8" stroke="#d83a3a" stroke-width="0.6" opacity="0.55"/>
<line x1="198.3" y1="29.5" x2="200.0" y2="29.5" stroke="#d83a3a" stroke-width="0.6" opacity="0.55"/>
<line x1="185.7" y1="25.8" x2="186.6" y2="26.1" stroke="#d83a3a" stroke-width="0.6" opacity="0.55"/>
<line x1="205.2" y1="29.4" x2="207.0" y2="29.2" stroke="#d83a3a" stroke-width="0.6" opacity="0.55"/>
<line x1="183.7" y1="27.8" x2="185.7" y2="27.1" stroke="#d83a3a" stroke-width="0.6" opacity="0.55"/>
<line x1="194.2" y1="26.5" x2="196.1" y2="26.2" stroke="#d83a3a" stroke-width="0.6" opacity="0.55"/>
<line x1="186.6" y1="28.0" x2="188.2" y2="28.5" stroke="#d83a3a" stroke-width="0.6" opacity="0.55"/>
<line x1="187.5" y1="32.5" x2="188.5" y2="32.1" stroke="#d83a3a" stroke-width="0.6" opacity="0.55"/>
<line x1="176.4" y1="25.1" x2="178.3" y2="25.5" stroke="#d83a3a" stroke-width="0.6" opacity="0.55"/>
<line x1="180.1" y1="25.9" x2="181.5" y2="26.3" stroke="#d83a3a" stroke-width="0.6" opacity="0.55"/>
<line x1="207.9" y1="31.5" x2="209.5" y2="30.9" stroke="#d83a3a" stroke-width="0.6" opacity="0.55"/>
<line x1="189.5" y1="25.9" x2="191.1" y2="26.0" stroke="#d83a3a" stroke-width="0.6" opacity="0.55"/>
<line x1="180.9" y1="26.5" x2="182.8" y2="25.7" stroke="#d83a3a" stroke-width="0.6" opacity="0.55"/>
<line x1="207.3" y1="32.9" x2="209.5" y2="32.7" stroke="#d83a3a" stroke-width="0.6" opacity="0.55"/>
<line x1="196.3" y1="29.8" x2="198.0" y2="30.6" stroke="#d83a3a" stroke-width="0.6" opacity="0.55"/>
<line x1="202.2" y1="27.0" x2="204.2" y2="27.0" stroke="#d83a3a" stroke-width="0.6" opacity="0.55"/>
<line x1="198.5" y1="31.3" x2="199.3" y2="31.7" stroke="#d83a3a" stroke-width="0.6" opacity="0.55"/>
<line x1="201.1" y1="28.9" x2="202.7" y2="28.9" stroke="#d83a3a" stroke-width="0.6" opacity="0.55"/>
<line x1="180.5" y1="29.3" x2="181.4" y2="29.3" stroke="#d83a3a" stroke-width="0.6" opacity="0.55"/>
<line x1="200.4" y1="28.4" x2="202.0" y2="29.2" stroke="#d83a3a" stroke-width="0.6" opacity="0.55"/>
<line x1="211.3" y1="25.4" x2="213.2" y2="25.6" stroke="#d83a3a" stroke-width="0.6" opacity="0.55"/>
<line x1="174.2" y1="27.6" x2="175.4" y2="26.9" stroke="#d83a3a" stroke-width="0.6" opacity="0.55"/>
<line x1="195.7" y1="33.3" x2="197.0" y2="33.9" stroke="#d83a3a" stroke-width="0.6" opacity="0.55"/>
<line x1="202.6" y1="25.3" x2="204.6" y2="25.5" stroke="#d83a3a" stroke-width="0.6" opacity="0.55"/>
<line x1="241.8" y1="48.4" x2="243.6" y2="48.2" stroke="#d03030" stroke-width="0.6" opacity="0.5"/>
<line x1="238.2" y1="48.7" x2="240.2" y2="48.6" stroke="#d03030" stroke-width="0.6" opacity="0.5"/>
<line x1="236.7" y1="46.0" x2="237.7" y2="45.3" stroke="#d03030" stroke-width="0.6" opacity="0.5"/>
<line x1="216.3" y1="40.3" x2="217.4" y2="40.3" stroke="#d03030" stroke-width="0.6" opacity="0.5"/>
<line x1="235.0" y1="45.9" x2="236.4" y2="46.1" stroke="#d03030" stroke-width="0.6" opacity="0.5"/>
<line x1="223.1" y1="42.9" x2="225.0" y2="42.7" stroke="#d03030" stroke-width="0.6" opacity="0.5"/>
<line x1="219.4" y1="43.9" x2="221.2" y2="43.7" stroke="#d03030" stroke-width="0.6" opacity="0.5"/>
<line x1="225.1" y1="43.6" x2="226.8" y2="43.2" stroke="#d03030" stroke-width="0.6" opacity="0.5"/>
<line x1="214.1" y1="39.9" x2="216.0" y2="39.3" stroke="#d03030" stroke-width="0.6" opacity="0.5"/>
<line x1="227.8" y1="42.7" x2="228.9" y2="42.1" stroke="#d03030" stroke-width="0.6" opacity="0.5"/>
<line x1="226.1" y1="42.2" x2="227.0" y2="41.6" stroke="#d03030" stroke-width="0.6" opacity="0.5"/>
<line x1="219.0" y1="42.1" x2="219.9" y2="41.3" stroke="#d03030" stroke-width="0.6" opacity="0.5"/>
<line x1="227.4" y1="43.6" x2="229.2" y2="42.9" stroke="#d03030" stroke-width="0.6" opacity="0.5"/>
<line x1="226.1" y1="43.2" x2="226.9" y2="44.0" stroke="#d03030" stroke-width="0.6" opacity="0.5"/>
<line x1="220.6" y1="40.7" x2="222.0" y2="40.2" stroke="#d03030" stroke-width="0.6" opacity="0.5"/>
<line x1="232.7" y1="44.4" x2="233.6" y2="43.7" stroke="#d03030" stroke-width="0.6" opacity="0.5"/>
<line x1="235.8" y1="44.8" x2="237.7" y2="44.7" stroke="#d03030" stroke-width="0.6" opacity="0.5"/>
<line x1="242.0" y1="46.2" x2="243.1" y2="45.8" stroke="#d03030" stroke-width="0.6" opacity="0.5"/>
<line x1="238.4" y1="47.2" x2="239.7" y2="46.5" stroke="#d03030" stroke-width="0.6" opacity="0.5"/>
<line x1="234.5" y1="48.0" x2="236.1" y2="47.2" stroke="#d03030" stroke-width="0.6" opacity="0.5"/>
<line x1="111.2" y1="33.5" x2="112.3" y2="32.7" stroke="#5050e0" stroke-width="0.6" opacity="0.45"/>
<line x1="113.8" y1="36.3" x2="115.8" y2="35.8" stroke="#5050e0" stroke-width="0.6" opacity="0.45"/>
<line x1="212.2" y1="35.4" x2="214.1" y2="36.1" stroke="#5050e0" stroke-width="0.6" opacity="0.45"/>
<line x1="208.6" y1="33.2" x2="209.8" y2="33.3" stroke="#5050e0" stroke-width="0.6" opacity="0.45"/>
<line x1="209.3" y1="33.4" x2="210.5" y2="34.0" stroke="#5050e0" stroke-width="0.6" opacity="0.45"/>
<line x1="120.3" y1="34.9" x2="121.5" y2="35.2" stroke="#5050e0" stroke-width="0.6" opacity="0.45"/>
<line x1="207.4" y1="33.9" x2="209.2" y2="34.2" stroke="#5050e0" stroke-width="0.6" opacity="0.45"/>
<line x1="197.4" y1="35.8" x2="199.5" y2="35.5" stroke="#5050e0" stroke-width="0.6" opacity="0.45"/>
<line x1="152.4" y1="34.1" x2="154.3" y2="34.1" stroke="#5050e0" stroke-width="0.6" opacity="0.45"/>
<line x1="136.8" y1="33.8" x2="138.6" y2="34.0" stroke="#5050e0" stroke-width="0.6" opacity="0.45"/>
<line x1="184.0" y1="34.9" x2="185.5" y2="34.4" stroke="#5050e0" stroke-width="0.6" opacity="0.45"/>
<line x1="184.0" y1="33.1" x2="185.5" y2="33.5" stroke="#5050e0" stroke-width="0.6" opacity="0.45"/>
<line x1="180.5" y1="33.5" x2="181.6" y2="34.0" stroke="#5050e0" stroke-width="0.6" opacity="0.45"/>
<line x1="176.7" y1="37.4" x2="178.8" y2="37.3" stroke="#5050e0" stroke-width="0.6" opacity="0.45"/>
<line x1="204.0" y1="36.7" x2="205.2" y2="36.5" stroke="#5050e0" stroke-width="0.6" opacity="0.45"/>
<line x1="115.7" y1="35.0" x2="117.8" y2="34.4" stroke="#5050e0" stroke-width="0.6" opacity="0.45"/>
<line x1="168.9" y1="33.6" x2="169.8" y2="33.8" stroke="#5050e0" stroke-width="0.6" opacity="0.45"/>
<line x1="133.8" y1="33.2" x2="134.8" y2="33.5" stroke="#5050e0" stroke-width="0.6" opacity="0.45"/>
<line x1="36.7" y1="58.5" x2="37.9" y2="59.3" stroke="#c04040" stroke-width="0.6" opacity="0.45"/>
<line x1="25.0" y1="60.7" x2="26.4" y2="61.2" stroke="#c04040" stroke-width="0.6" opacity="0.45"/>
<line x1="37.3" y1="61.7" x2="38.9" y2="61.2" stroke="#c04040" stroke-width="0.6" opacity="0.45"/>
<line x1="23.7" y1="58.8" x2="25.6" y2="58.2" stroke="#c04040" stroke-width="0.6" opacity="0.45"/>
<line x1="18.8" y1="62.4" x2="19.8" y2="63.0" stroke="#c04040" stroke-width="0.6" opacity="0.45"/>
<line x1="20.7" y1="60.4" x2="21.9" y2="60.9" stroke="#c04040" stroke-width="0.6" opacity="0.45"/>
<line x1="37.7" y1="61.1" x2="39.6" y2="61.7" stroke="#c04040" stroke-width="0.6" opacity="0.45"/>
<line x1="29.1" y1="60.9" x2="30.5" y2="60.3" stroke="#c04040" stroke-width="0.6" opacity="0.45"/>
<line x1="44.7" y1="60.9" x2="46.7" y2="60.4" stroke="#3c8c3c" stroke-width="0.6" opacity="0.45"/>
<line x1="35.3" y1="60.4" x2="37.1" y2="59.7" stroke="#3c8c3c" stroke-width="0.6" opacity="0.45"/>
<line x1="29.1" y1="60.4" x2="30.0" y2="60.5" stroke="#3c8c3c" stroke-width="0.6" opacity="0.45"/>
<line x1="41.5" y1="60.2" x2="43.2" y2="60.4" stroke="#3c8c3c" stroke-width="0.6" opacity="0.45"/>
<line x1="24.9" y1="59.9" x2="27.0" y2="59.6" stroke="#3c8c3c" stroke-width="0.6" opacity="0.45"/>
<line x1="31.8" y1="58.8" x2="32.9" y2="58.3" stroke="#3c8c3c" stroke-width="0.6" opacity="0.45"/>
<line x1="232.6" y1="75.4" x2="234.6" y2="76.2" stroke="#d05050" stroke-width="0.6" opacity="0.35"/>
<line x1="207.7" y1="83.5" x2="209.3" y2="83.3" stroke="#d05050" stroke-width="0.6" opacity="0.35"/>
<line x1="233.9" y1="75.5" x2="236.1" y2="75.5" stroke="#d05050" stroke-width="0.6" opacity="0.35"/>
<line x1="220.3" y1="78.1" x2="222.5" y2="78.8" stroke="#d05050" stroke-width="0.6" opacity="0.35"/>
<line x1="182.8" y1="91.0" x2="183.8" y2="90.3" stroke="#d05050" stroke-width="0.6" opacity="0.35"/>
<line x1="216.3" y1="79.0" x2="217.9" y2="79.2" stroke="#d05050" stroke-width="0.6" opacity="0.35"/>
<line x1="163.2" y1="96.3" x2="164.4" y2="96.2" stroke="#d05050" stroke-width="0.6" opacity="0.35"/>
<line x1="186.9" y1="89.2" x2="188.7" y2="88.8" stroke="#d05050" stroke-width="0.6" opacity="0.35"/>
<line x1="168.1" y1="93.5" x2="169.4" y2="92.8" stroke="#d05050" stroke-width="0.6" opacity="0.35"/>
<line x1="172.0" y1="93.7" x2="173.7" y2="94.5" stroke="#d05050" stroke-width="0.6" opacity="0.35"/>
<line x1="179.4" y1="93.1" x2="180.8" y2="92.6" stroke="#3c8c3c" stroke-width="0.6" opacity="0.45"/>
<line x1="160.7" y1="95.6" x2="162.3" y2="95.7" stroke="#3c8c3c" stroke-width="0.6" opacity="0.45"/>
<line x1="162.1" y1="96.5" x2="163.3" y2="96.5" stroke="#3c8c3c" stroke-width="0.6" opacity="0.45"/>
<line x1="176.8" y1="93.5" x2="178.0" y2="93.0" stroke="#3c8c3c" stroke-width="0.6" opacity="0.45"/>
<line x1="174.6" y1="91.5" x2="175.6" y2="91.6" stroke="#3c8c3c" stroke-width="0.6" opacity="0.45"/>
<line x1="167.0" y1="93.5" x2="167.9" y2="93.0" stroke="#3c8c3c" stroke-width="0.6" opacity="0.45"/>
</g>
<rect x="50.4" y="58.6" width="2" height="2.4" fill="#2a3ae0" opacity="0.85"/>
<rect x="96.6" y="43.4" width="2" height="1.6" fill="#2a3ae0" opacity="0.85"/>
<polygon points="235.5,63 239,61.5 241.8,62.3 242.8,65.5 239.5,64.2 236.5,64.5" fill="#5a5af0" opacity="0.45"/>
<polygon points="119.5,77.5 122,76.5 121.5,80 118.5,83.5 116.5,84.5 117.5,80.5" fill="#f0a8a8" opacity="0.6"/>
<line x1="231" y1="68.5" x2="234" y2="68" stroke="#d86060" stroke-width="0.6" opacity="0.6"/>
<line x1="220" y1="78.5" x2="224" y2="78" stroke="#d86060" stroke-width="0.6" opacity="0.6"/>
<rect x="227" y="41.8" width="1.8" height="1.4" fill="#2a3ae0" opacity="0.6"/>
<rect x="210.5" y="33" width="2.2" height="1.2" fill="#2a3ae0" opacity="0.6"/>
<text x="258.60" y="16.80" font-family='"Liberation Sans", sans-serif' font-size="7.2" font-weight="normal" font-style="normal" text-anchor="middle" fill="#111" >N</text>
<polygon points="258.6,19.4 253,37.6 259,31.5" fill="#111" stroke="#111" stroke-width="0.4"/>
<polygon points="258.6,19.4 259,31.5 264.2,38" fill="#fff" stroke="#111" stroke-width="0.6"/>
<rect x="15.30" y="133.60" width="72.90" height="3.60" fill="#111" />
<rect x="24.50" y="134.50" width="8.50" height="1.80" fill="#fff" />
<rect x="42.60" y="134.50" width="8.90" height="1.80" fill="#fff" />
<text x="15.30" y="131.00" font-family='"Liberation Serif", serif' font-size="5.4" font-weight="bold" font-style="normal" text-anchor="middle" fill="#111"  stroke="#111" stroke-width="0.119">0</text>
<text x="33.50" y="131.00" font-family='"Liberation Serif", serif' font-size="5.4" font-weight="bold" font-style="normal" text-anchor="middle" fill="#111"  stroke="#111" stroke-width="0.119">100</text>
<text x="51.70" y="131.00" font-family='"Liberation Serif", serif' font-size="5.4" font-weight="bold" font-style="normal" text-anchor="middle" fill="#111"  stroke="#111" stroke-width="0.119">200</text>
<text x="88.00" y="131.00" font-family='"Liberation Serif", serif' font-size="5.4" font-weight="bold" font-style="normal" text-anchor="middle" fill="#111"  stroke="#111" stroke-width="0.119">400</text>
<text x="90.20" y="137.60" font-family='"Liberation Serif", serif' font-size="5.6" font-weight="bold" font-style="normal" text-anchor="start" fill="#111"  stroke="#111" stroke-width="0.123">Km</text>
<rect x="186.00" y="103.20" width="13.20" height="6.40" fill="#238223" />
<rect x="186.00" y="111.70" width="13.20" height="6.20" fill="#b40f0f" />
<text x="202.40" y="108.30" font-family='"Liberation Serif", serif' font-size="5.65" font-weight="bold" font-style="italic" text-anchor="start" fill="#111"  stroke="#111" stroke-width="0.124">Shrubland</text>
<line x1="227.50" y1="106.61" x2="232.02" y2="106.61" stroke="#111" stroke-width="0.51"/>
<polygon points="232.58,106.61 231.00,105.70 231.00,107.51" fill="#111"/>
<text x="232.86" y="108.30" font-family='"Liberation Serif", serif' font-size="5.65" font-weight="bold" font-style="italic" text-anchor="start" fill="#111"  stroke="#111" stroke-width="0.124">P. euphratica</text>
<text x="202.40" y="116.40" font-family='"Liberation Serif", serif' font-size="5.65" font-weight="bold" font-style="italic" text-anchor="start" fill="#111"  stroke="#111" stroke-width="0.124">P. euphratica</text>
<line x1="233.34" y1="114.71" x2="237.86" y2="114.71" stroke="#111" stroke-width="0.51"/>
<polygon points="238.43,114.71 236.85,113.80 236.85,115.61" fill="#111"/>
<text x="238.71" y="116.40" font-family='"Liberation Serif", serif' font-size="5.65" font-weight="bold" font-style="italic" text-anchor="start" fill="#111"  stroke="#111" stroke-width="0.124">Shrubland</text>
<text x="160.90" y="127.60" font-family='"Liberation Serif", serif' font-size="5.58" font-weight="bold" font-style="normal" text-anchor="start" fill="#111"  stroke="#111" stroke-width="0.123">Frequency of surface water occurrence</text>
<rect x="161.40" y="132.20" width="13.30" height="6.80" fill="#9d94f2" />
<rect x="193.40" y="132.20" width="13.40" height="6.80" fill="#6a5ce6" />
<rect x="236.00" y="132.20" width="13.40" height="6.80" fill="#1414e0" />
<text x="176.20" y="137.40" font-family='"Liberation Serif", serif' font-size="5.6" font-weight="bold" font-style="normal" text-anchor="start" fill="#111"  stroke="#111" stroke-width="0.123">Low</text>
<text x="208.90" y="137.40" font-family='"Liberation Serif", serif' font-size="5.4" font-weight="bold" font-style="normal" text-anchor="start" fill="#111"  stroke="#111" stroke-width="0.119">Midium</text>
<text x="250.80" y="137.40" font-family='"Liberation Serif", serif' font-size="5.6" font-weight="bold" font-style="normal" text-anchor="start" fill="#111"  stroke="#111" stroke-width="0.123">High</text>
<text x="278.30" y="18.90" font-family='"Liberation Serif", serif' font-size="10.5" font-weight="bold" font-style="normal" text-anchor="start" fill="#111"  stroke="#111" stroke-width="0.231">b</text>
<line x1="303.70" y1="7.10" x2="303.70" y2="125.60" stroke="#333" stroke-width="0.9" />
<line x1="303.70" y1="125.60" x2="502.90" y2="125.60" stroke="#333" stroke-width="0.9" />
<line x1="303.40" y1="125.60" x2="305.70" y2="125.60" stroke="#333" stroke-width="0.8" />
<text x="299.50" y="127.80" font-family='"Liberation Serif", serif' font-size="6.7" font-weight="bold" font-style="normal" text-anchor="end" fill="#111"  stroke="#111" stroke-width="0.147">0</text>
<line x1="303.40" y1="112.47" x2="305.70" y2="112.47" stroke="#333" stroke-width="0.8" />
<text x="299.50" y="114.67" font-family='"Liberation Serif", serif' font-size="6.7" font-weight="bold" font-style="normal" text-anchor="end" fill="#111"  stroke="#111" stroke-width="0.147">100</text>
<line x1="303.40" y1="99.34" x2="305.70" y2="99.34" stroke="#333" stroke-width="0.8" />
<text x="299.50" y="101.54" font-family='"Liberation Serif", serif' font-size="6.7" font-weight="bold" font-style="normal" text-anchor="end" fill="#111"  stroke="#111" stroke-width="0.147">200</text>
<line x1="303.40" y1="86.21" x2="305.70" y2="86.21" stroke="#333" stroke-width="0.8" />
<text x="299.50" y="88.41" font-family='"Liberation Serif", serif' font-size="6.7" font-weight="bold" font-style="normal" text-anchor="end" fill="#111"  stroke="#111" stroke-width="0.147">300</text>
<line x1="303.40" y1="73.08" x2="305.70" y2="73.08" stroke="#333" stroke-width="0.8" />
<text x="299.50" y="75.28" font-family='"Liberation Serif", serif' font-size="6.7" font-weight="bold" font-style="normal" text-anchor="end" fill="#111"  stroke="#111" stroke-width="0.147">400</text>
<line x1="303.40" y1="59.95" x2="305.70" y2="59.95" stroke="#333" stroke-width="0.8" />
<text x="299.50" y="62.15" font-family='"Liberation Serif", serif' font-size="6.7" font-weight="bold" font-style="normal" text-anchor="end" fill="#111"  stroke="#111" stroke-width="0.147">500</text>
<line x1="303.40" y1="46.82" x2="305.70" y2="46.82" stroke="#333" stroke-width="0.8" />
<text x="299.50" y="49.02" font-family='"Liberation Serif", serif' font-size="6.7" font-weight="bold" font-style="normal" text-anchor="end" fill="#111"  stroke="#111" stroke-width="0.147">600</text>
<line x1="303.40" y1="33.69" x2="305.70" y2="33.69" stroke="#333" stroke-width="0.8" />
<text x="299.50" y="35.89" font-family='"Liberation Serif", serif' font-size="6.7" font-weight="bold" font-style="normal" text-anchor="end" fill="#111"  stroke="#111" stroke-width="0.147">700</text>
<line x1="303.40" y1="20.56" x2="305.70" y2="20.56" stroke="#333" stroke-width="0.8" />
<text x="299.50" y="22.76" font-family='"Liberation Serif", serif' font-size="6.7" font-weight="bold" font-style="normal" text-anchor="end" fill="#111"  stroke="#111" stroke-width="0.147">800</text>
<line x1="303.40" y1="7.43" x2="305.70" y2="7.43" stroke="#333" stroke-width="0.8" />
<text x="299.50" y="9.63" font-family='"Liberation Serif", serif' font-size="6.7" font-weight="bold" font-style="normal" text-anchor="end" fill="#111"  stroke="#111" stroke-width="0.147">900</text>
<line x1="317.30" y1="123.20" x2="317.30" y2="125.60" stroke="#222" stroke-width="0.8" />
<line x1="331.50" y1="123.20" x2="331.50" y2="125.60" stroke="#222" stroke-width="0.8" />
<line x1="345.70" y1="123.20" x2="345.70" y2="125.60" stroke="#222" stroke-width="0.8" />
<line x1="359.90" y1="123.20" x2="359.90" y2="125.60" stroke="#222" stroke-width="0.8" />
<line x1="374.10" y1="123.20" x2="374.10" y2="125.60" stroke="#222" stroke-width="0.8" />
<line x1="388.30" y1="123.20" x2="388.30" y2="125.60" stroke="#222" stroke-width="0.8" />
<line x1="402.50" y1="123.20" x2="402.50" y2="125.60" stroke="#222" stroke-width="0.8" />
<line x1="416.70" y1="123.20" x2="416.70" y2="125.60" stroke="#222" stroke-width="0.8" />
<line x1="430.90" y1="123.20" x2="430.90" y2="125.60" stroke="#222" stroke-width="0.8" />
<line x1="445.10" y1="123.20" x2="445.10" y2="125.60" stroke="#222" stroke-width="0.8" />
<line x1="459.30" y1="123.20" x2="459.30" y2="125.60" stroke="#222" stroke-width="0.8" />
<line x1="473.50" y1="123.20" x2="473.50" y2="125.60" stroke="#222" stroke-width="0.8" />
<line x1="487.70" y1="123.20" x2="487.70" y2="125.60" stroke="#222" stroke-width="0.8" />
<line x1="501.90" y1="123.20" x2="501.90" y2="125.60" stroke="#222" stroke-width="0.8" />
<rect x="305.70" y="97.90" width="2.10" height="27.70" fill="#b9c7ef" />
<rect x="308.05" y="104.20" width="2.10" height="21.40" fill="#8ea6e2" />
<rect x="310.60" y="112.10" width="2.10" height="13.50" fill="#2c4fb0" />
<rect x="313.45" y="19.30" width="2.10" height="106.30" fill="#0f2a6c" />
<rect x="319.87" y="109.40" width="2.10" height="16.20" fill="#b9c7ef" />
<rect x="322.22" y="114.90" width="2.10" height="10.70" fill="#8ea6e2" />
<rect x="324.77" y="116.00" width="2.10" height="9.60" fill="#2c4fb0" />
<rect x="327.62" y="56.80" width="2.10" height="68.80" fill="#0f2a6c" />
<rect x="334.04" y="121.60" width="2.10" height="4.00" fill="#b9c7ef" />
<rect x="336.39" y="122.40" width="2.10" height="3.20" fill="#8ea6e2" />
<rect x="338.94" y="123.10" width="2.10" height="2.50" fill="#2c4fb0" />
<rect x="341.79" y="106.60" width="2.10" height="19.00" fill="#0f2a6c" />
<rect x="348.21" y="110.50" width="2.10" height="15.10" fill="#b9c7ef" />
<rect x="350.56" y="119.20" width="2.10" height="6.40" fill="#8ea6e2" />
<rect x="353.11" y="112.90" width="2.10" height="12.70" fill="#2c4fb0" />
<rect x="355.96" y="65.50" width="2.10" height="60.10" fill="#0f2a6c" />
<rect x="362.38" y="120.00" width="2.10" height="5.60" fill="#b9c7ef" />
<rect x="367.28" y="123.90" width="2.10" height="1.70" fill="#2c4fb0" />
<rect x="370.13" y="97.10" width="2.10" height="28.50" fill="#0f2a6c" />
<rect x="376.55" y="113.70" width="2.10" height="11.90" fill="#b9c7ef" />
<rect x="378.90" y="123.50" width="2.10" height="2.10" fill="#8ea6e2" />
<rect x="384.30" y="96.00" width="2.10" height="29.60" fill="#0f2a6c" />
<rect x="390.72" y="101.00" width="2.10" height="24.60" fill="#b9c7ef" />
<rect x="393.07" y="122.40" width="2.10" height="3.20" fill="#8ea6e2" />
<rect x="395.62" y="119.70" width="2.10" height="5.90" fill="#2c4fb0" />
<rect x="398.47" y="43.90" width="2.10" height="81.70" fill="#0f2a6c" />
<rect x="412.64" y="123.10" width="2.10" height="2.50" fill="#0f2a6c" />
<rect x="419.06" y="119.70" width="2.10" height="5.90" fill="#b9c7ef" />
<rect x="421.41" y="122.80" width="2.10" height="2.80" fill="#8ea6e2" />
<rect x="423.96" y="122.80" width="2.10" height="2.80" fill="#2c4fb0" />
<rect x="426.81" y="100.70" width="2.10" height="24.90" fill="#0f2a6c" />
<rect x="433.23" y="112.10" width="2.10" height="13.50" fill="#b9c7ef" />
<rect x="435.58" y="117.10" width="2.10" height="8.50" fill="#8ea6e2" />
<rect x="438.13" y="114.00" width="2.10" height="11.60" fill="#2c4fb0" />
<rect x="440.98" y="69.00" width="2.10" height="56.60" fill="#0f2a6c" />
<rect x="455.15" y="121.10" width="2.10" height="4.50" fill="#0f2a6c" />
<rect x="461.57" y="123.10" width="2.10" height="2.50" fill="#b9c7ef" />
<rect x="469.32" y="116.00" width="2.10" height="9.60" fill="#0f2a6c" />
<rect x="483.49" y="124.70" width="2.10" height="0.90" fill="#0f2a6c" />
<text x="310.50" y="139.00" font-family='"Liberation Serif", serif' font-size="7.6" font-weight="bold" font-style="normal" text-anchor="middle" fill="#111"  stroke="#111" stroke-width="0.167">A</text>
<text x="324.70" y="139.00" font-family='"Liberation Serif", serif' font-size="7.6" font-weight="bold" font-style="normal" text-anchor="middle" fill="#111"  stroke="#111" stroke-width="0.167">B</text>
<text x="338.90" y="139.00" font-family='"Liberation Serif", serif' font-size="7.6" font-weight="bold" font-style="normal" text-anchor="middle" fill="#111"  stroke="#111" stroke-width="0.167">C</text>
<text x="353.10" y="139.00" font-family='"Liberation Serif", serif' font-size="7.6" font-weight="bold" font-style="normal" text-anchor="middle" fill="#111"  stroke="#111" stroke-width="0.167">D</text>
<text x="367.30" y="139.00" font-family='"Liberation Serif", serif' font-size="7.6" font-weight="bold" font-style="normal" text-anchor="middle" fill="#111"  stroke="#111" stroke-width="0.167">E</text>
<text x="381.50" y="139.00" font-family='"Liberation Serif", serif' font-size="7.6" font-weight="bold" font-style="normal" text-anchor="middle" fill="#111"  stroke="#111" stroke-width="0.167">F</text>
<text x="395.70" y="139.00" font-family='"Liberation Serif", serif' font-size="7.6" font-weight="bold" font-style="normal" text-anchor="middle" fill="#111"  stroke="#111" stroke-width="0.167">G</text>
<text x="409.90" y="139.00" font-family='"Liberation Serif", serif' font-size="7.6" font-weight="bold" font-style="normal" text-anchor="middle" fill="#111"  stroke="#111" stroke-width="0.167">H</text>
<text x="424.10" y="139.00" font-family='"Liberation Serif", serif' font-size="7.6" font-weight="bold" font-style="normal" text-anchor="middle" fill="#111"  stroke="#111" stroke-width="0.167">I</text>
<text x="438.30" y="139.00" font-family='"Liberation Serif", serif' font-size="7.6" font-weight="bold" font-style="normal" text-anchor="middle" fill="#111"  stroke="#111" stroke-width="0.167">J</text>
<text x="452.50" y="139.00" font-family='"Liberation Serif", serif' font-size="7.6" font-weight="bold" font-style="normal" text-anchor="middle" fill="#111"  stroke="#111" stroke-width="0.167">K</text>
<text x="466.70" y="139.00" font-family='"Liberation Serif", serif' font-size="7.6" font-weight="bold" font-style="normal" text-anchor="middle" fill="#111"  stroke="#111" stroke-width="0.167">L</text>
<text x="480.90" y="139.00" font-family='"Liberation Serif", serif' font-size="7.6" font-weight="bold" font-style="normal" text-anchor="middle" fill="#111"  stroke="#111" stroke-width="0.167">M</text>
<text x="495.10" y="139.00" font-family='"Liberation Serif", serif' font-size="7.6" font-weight="bold" font-style="normal" text-anchor="middle" fill="#111"  stroke="#111" stroke-width="0.167">N</text>
<text x="392.00" y="147.20" font-family='"Liberation Serif", serif' font-size="7.96" font-weight="bold" font-style="normal" text-anchor="middle" fill="#111"  stroke="#111" stroke-width="0.175">Rivers</text>
<rect x="415.80" y="7.10" width="3.90" height="3.90" fill="#b9c7ef" />
<text x="422.20" y="11.40" font-family='"Liberation Serif", serif' font-size="6.65" font-weight="bold" font-style="normal" text-anchor="start" fill="#111"  stroke="#111" stroke-width="0.146">low frequency</text>
<rect x="415.80" y="13.40" width="3.90" height="3.90" fill="#8ea6e2" />
<text x="422.20" y="17.70" font-family='"Liberation Serif", serif' font-size="6.65" font-weight="bold" font-style="normal" text-anchor="start" fill="#111"  stroke="#111" stroke-width="0.146">medium frequency</text>
<rect x="415.80" y="19.70" width="3.90" height="3.90" fill="#2c4fb0" />
<text x="422.20" y="24.00" font-family='"Liberation Serif", serif' font-size="6.65" font-weight="bold" font-style="normal" text-anchor="start" fill="#111"  stroke="#111" stroke-width="0.146">high frequency</text>
<rect x="415.80" y="26.50" width="3.90" height="3.90" fill="#0f2a6c" />
<text x="422.20" y="30.80" font-family='"Liberation Serif", serif' font-size="6.65" font-weight="bold" font-style="normal" text-anchor="start" fill="#111"  stroke="#111" stroke-width="0.146">overflowing water surface</text>
<text transform="translate(287.4,67) rotate(-90)" font-family='"Liberation Serif", serif' font-size="7.6" font-weight="bold" text-anchor="middle" fill="#111">Area (km<tspan font-size="5" dy="-3">2</tspan><tspan dy="3">)</tspan></text>
<text x="3.80" y="160.30" font-family='"Liberation Serif", serif' font-size="12" font-weight="bold" font-style="normal" text-anchor="start" fill="#111"  stroke="#111" stroke-width="0.264">c</text>
<rect x="15.30" y="151.40" width="10.70" height="5.40" fill="#2e8b7c" />
<text x="27.20" y="156.00" font-family='"Liberation Serif", serif' font-size="6.57" font-weight="normal" font-style="italic" text-anchor="start" fill="#111" stroke="#111" stroke-width="0.23">Shrubland</text>
<line x1="54.91" y1="154.03" x2="60.16" y2="154.03" stroke="#111" stroke-width="0.46"/>
<polygon points="60.82,154.03 58.98,152.98 58.98,155.08" fill="#111"/>
<text x="61.15" y="156.00" font-family='"Liberation Serif", serif' font-size="6.57" font-weight="normal" font-style="italic" text-anchor="start" fill="#111" stroke="#111" stroke-width="0.23">P. euphratica</text>
<rect x="98.00" y="152.20" width="10.60" height="4.60" fill="#e8735a" />
<text x="110.00" y="156.00" font-family='"Liberation Serif", serif' font-size="6.57" font-weight="normal" font-style="italic" text-anchor="start" fill="#111" stroke="#111" stroke-width="0.23">P. euphratica</text>
<line x1="145.24" y1="154.03" x2="150.50" y2="154.03" stroke="#111" stroke-width="0.46"/>
<polygon points="151.16,154.03 149.32,152.98 149.32,155.08" fill="#111"/>
<text x="151.49" y="156.00" font-family='"Liberation Serif", serif' font-size="6.57" font-weight="normal" font-style="italic" text-anchor="start" fill="#111" stroke="#111" stroke-width="0.23">Shrubland</text>
<polyline points="24.50,281.4 24.50,161.6 106.50,161.6 106.50,281.4" fill="none" stroke="#555" stroke-width="1.0"/>
<line x1="24.50" y1="258.20" x2="106.50" y2="258.20" stroke="#333" stroke-width="1.0" />
<polyline points="113.40,281.4 113.40,161.6 188.60,161.6 188.60,281.4" fill="none" stroke="#555" stroke-width="1.0"/>
<line x1="113.40" y1="257.50" x2="188.60" y2="257.50" stroke="#333" stroke-width="1.0" />
<polyline points="195.80,281.4 195.80,161.6 271.30,161.6 271.30,281.4" fill="none" stroke="#555" stroke-width="1.0"/>
<line x1="195.80" y1="257.40" x2="271.30" y2="257.40" stroke="#333" stroke-width="1.0" />
<line x1="24.50" y1="274.10" x2="271.30" y2="274.10" stroke="#555" stroke-width="1.0" />
<text x="23.60" y="165.80" font-family='"Liberation Serif", serif' font-size="7.4" font-weight="bold" font-style="normal" text-anchor="end" fill="#111"  stroke="#111" stroke-width="0.163">700</text>
<line x1="23.30" y1="163.30" x2="24.50" y2="163.30" stroke="#555" stroke-width="0.6" />
<line x1="112.20" y1="163.30" x2="113.40" y2="163.30" stroke="#555" stroke-width="0.6" />
<line x1="194.60" y1="163.30" x2="195.80" y2="163.30" stroke="#555" stroke-width="0.6" />
<text x="23.60" y="185.50" font-family='"Liberation Serif", serif' font-size="7.4" font-weight="bold" font-style="normal" text-anchor="end" fill="#111"  stroke="#111" stroke-width="0.163">600</text>
<line x1="23.30" y1="183.00" x2="24.50" y2="183.00" stroke="#555" stroke-width="0.6" />
<line x1="112.20" y1="183.00" x2="113.40" y2="183.00" stroke="#555" stroke-width="0.6" />
<line x1="194.60" y1="183.00" x2="195.80" y2="183.00" stroke="#555" stroke-width="0.6" />
<text x="23.60" y="222.20" font-family='"Liberation Serif", serif' font-size="7.4" font-weight="bold" font-style="normal" text-anchor="end" fill="#111"  stroke="#111" stroke-width="0.163">200</text>
<line x1="23.30" y1="219.70" x2="24.50" y2="219.70" stroke="#555" stroke-width="0.6" />
<line x1="112.20" y1="219.70" x2="113.40" y2="219.70" stroke="#555" stroke-width="0.6" />
<line x1="194.60" y1="219.70" x2="195.80" y2="219.70" stroke="#555" stroke-width="0.6" />
<text x="23.60" y="241.90" font-family='"Liberation Serif", serif' font-size="7.4" font-weight="bold" font-style="normal" text-anchor="end" fill="#111"  stroke="#111" stroke-width="0.163">100</text>
<line x1="23.30" y1="239.40" x2="24.50" y2="239.40" stroke="#555" stroke-width="0.6" />
<line x1="112.20" y1="239.40" x2="113.40" y2="239.40" stroke="#555" stroke-width="0.6" />
<line x1="194.60" y1="239.40" x2="195.80" y2="239.40" stroke="#555" stroke-width="0.6" />
<text x="23.60" y="260.80" font-family='"Liberation Serif", serif' font-size="7.4" font-weight="bold" font-style="normal" text-anchor="end" fill="#111"  stroke="#111" stroke-width="0.163">0</text>
<line x1="23.30" y1="258.30" x2="24.50" y2="258.30" stroke="#555" stroke-width="0.6" />
<line x1="112.20" y1="258.30" x2="113.40" y2="258.30" stroke="#555" stroke-width="0.6" />
<line x1="194.60" y1="258.30" x2="195.80" y2="258.30" stroke="#555" stroke-width="0.6" />
<line x1="23.50" y1="197.30" x2="25.50" y2="195.50" stroke="#555" stroke-width="0.7" />
<line x1="112.40" y1="197.30" x2="114.40" y2="195.50" stroke="#555" stroke-width="0.7" />
<line x1="194.80" y1="197.30" x2="196.80" y2="195.50" stroke="#555" stroke-width="0.7" />
<text transform="translate(10.1,211.5) rotate(-90)" font-family='"Liberation Serif", serif' font-size="8.6" font-weight="bold" text-anchor="middle" fill="#111">Area (km<tspan font-size="5.4" dy="-3.4">2</tspan><tspan dy="3.4">)</tspan></text>
<rect x="25.50" y="247.10" width="2.70" height="11.10" fill="#2e8b7c" />
<rect x="32.33" y="254.80" width="2.70" height="3.40" fill="#2e8b7c" />
<rect x="35.03" y="257.30" width="2.70" height="0.90" fill="#e8735a" />
<rect x="39.16" y="253.10" width="2.70" height="5.10" fill="#2e8b7c" />
<rect x="41.86" y="219.80" width="2.70" height="38.40" fill="#e8735a" />
<rect x="45.99" y="257.60" width="2.70" height="0.60" fill="#2e8b7c" />
<rect x="48.69" y="257.60" width="2.70" height="0.60" fill="#e8735a" />
<rect x="52.82" y="253.20" width="2.70" height="5.00" fill="#2e8b7c" />
<rect x="55.52" y="249.30" width="2.70" height="8.90" fill="#e8735a" />
<rect x="62.35" y="236.50" width="2.70" height="21.70" fill="#e8735a" />
<rect x="66.48" y="252.00" width="2.70" height="6.20" fill="#2e8b7c" />
<rect x="69.18" y="257.30" width="2.70" height="0.90" fill="#e8735a" />
<rect x="73.31" y="257.50" width="2.70" height="0.70" fill="#2e8b7c" />
<rect x="76.01" y="257.50" width="2.70" height="0.70" fill="#e8735a" />
<rect x="80.14" y="215.30" width="2.70" height="42.90" fill="#2e8b7c" />
<rect x="82.84" y="221.80" width="2.70" height="36.40" fill="#e8735a" />
<rect x="93.80" y="185.40" width="2.70" height="72.80" fill="#2e8b7c" />
<rect x="96.50" y="257.60" width="2.70" height="0.60" fill="#e8735a" />
<rect x="100.63" y="257.50" width="2.70" height="0.70" fill="#2e8b7c" />
<rect x="103.33" y="257.50" width="2.70" height="0.70" fill="#e8735a" />
<rect x="93.50" y="196.30" width="3.30" height="1.70" fill="#fff" />
<text x="28.20" y="264.30" font-family='"Liberation Serif", serif' font-size="6.2" font-weight="bold" font-style="normal" text-anchor="middle" fill="#111" stroke="#111" stroke-width="0.12">J</text>
<text x="35.03" y="264.30" font-family='"Liberation Serif", serif' font-size="6.2" font-weight="bold" font-style="normal" text-anchor="middle" fill="#111" stroke="#111" stroke-width="0.12">G</text>
<text x="41.86" y="264.30" font-family='"Liberation Serif", serif' font-size="6.2" font-weight="bold" font-style="normal" text-anchor="middle" fill="#111" stroke="#111" stroke-width="0.12">C</text>
<text x="48.69" y="264.30" font-family='"Liberation Serif", serif' font-size="6.2" font-weight="bold" font-style="normal" text-anchor="middle" fill="#111" stroke="#111" stroke-width="0.12">I</text>
<text x="55.52" y="264.30" font-family='"Liberation Serif", serif' font-size="6.2" font-weight="bold" font-style="normal" text-anchor="middle" fill="#111" stroke="#111" stroke-width="0.12">L</text>
<text x="62.35" y="264.30" font-family='"Liberation Serif", serif' font-size="6.2" font-weight="bold" font-style="normal" text-anchor="middle" fill="#111" stroke="#111" stroke-width="0.12">H</text>
<text x="69.18" y="264.30" font-family='"Liberation Serif", serif' font-size="6.2" font-weight="bold" font-style="normal" text-anchor="middle" fill="#111" stroke="#111" stroke-width="0.12">K</text>
<text x="76.01" y="264.30" font-family='"Liberation Serif", serif' font-size="6.2" font-weight="bold" font-style="normal" text-anchor="middle" fill="#111" stroke="#111" stroke-width="0.12">F</text>
<text x="82.84" y="264.30" font-family='"Liberation Serif", serif' font-size="6.2" font-weight="bold" font-style="normal" text-anchor="middle" fill="#111" stroke="#111" stroke-width="0.12">B</text>
<text x="89.67" y="264.30" font-family='"Liberation Serif", serif' font-size="6.2" font-weight="bold" font-style="normal" text-anchor="middle" fill="#111" stroke="#111" stroke-width="0.12">N</text>
<text x="96.50" y="264.30" font-family='"Liberation Serif", serif' font-size="6.2" font-weight="bold" font-style="normal" text-anchor="middle" fill="#111" stroke="#111" stroke-width="0.12">A</text>
<text x="103.33" y="264.30" font-family='"Liberation Serif", serif' font-size="6.2" font-weight="bold" font-style="normal" text-anchor="middle" fill="#111" stroke="#111" stroke-width="0.12">D</text>
<text x="61.00" y="273.00" font-family='"Liberation Serif", serif' font-size="7.7" font-weight="bold" font-style="normal" text-anchor="middle" fill="#111"  stroke="#111" stroke-width="0.169">River</text>
<text x="65.50" y="281.00" font-family='"Liberation Serif", serif' font-size="7.7" font-weight="bold" font-style="normal" text-anchor="middle" fill="#111"  stroke="#111" stroke-width="0.169">high frequence</text>
<rect x="114.00" y="242.00" width="2.60" height="15.50" fill="#2e8b7c" />
<rect x="116.60" y="252.00" width="2.60" height="5.50" fill="#e8735a" />
<rect x="120.27" y="241.20" width="2.60" height="16.30" fill="#2e8b7c" />
<rect x="122.87" y="247.10" width="2.60" height="10.40" fill="#e8735a" />
<rect x="126.54" y="246.90" width="2.60" height="10.60" fill="#2e8b7c" />
<rect x="129.14" y="212.90" width="2.60" height="44.60" fill="#e8735a" />
<rect x="132.81" y="244.90" width="2.60" height="12.60" fill="#2e8b7c" />
<rect x="135.41" y="243.90" width="2.60" height="13.60" fill="#e8735a" />
<rect x="139.08" y="252.80" width="2.60" height="4.70" fill="#2e8b7c" />
<rect x="141.68" y="247.10" width="2.60" height="10.40" fill="#e8735a" />
<rect x="145.35" y="254.70" width="2.60" height="2.80" fill="#2e8b7c" />
<rect x="147.95" y="248.00" width="2.60" height="9.50" fill="#e8735a" />
<rect x="151.62" y="248.00" width="2.60" height="9.50" fill="#2e8b7c" />
<rect x="154.22" y="256.20" width="2.60" height="1.30" fill="#e8735a" />
<rect x="157.89" y="257.50" width="2.60" height="0.00" fill="#2e8b7c" />
<rect x="160.49" y="257.50" width="2.60" height="0.00" fill="#e8735a" />
<rect x="164.16" y="198.20" width="2.60" height="59.30" fill="#2e8b7c" />
<rect x="166.76" y="199.90" width="2.60" height="57.60" fill="#e8735a" />
<rect x="170.43" y="257.30" width="2.60" height="0.20" fill="#2e8b7c" />
<rect x="173.03" y="257.50" width="2.60" height="0.00" fill="#e8735a" />
<rect x="176.70" y="185.70" width="2.60" height="71.80" fill="#2e8b7c" />
<rect x="179.30" y="250.70" width="2.60" height="6.80" fill="#e8735a" />
<rect x="182.97" y="237.00" width="2.60" height="20.50" fill="#2e8b7c" />
<rect x="185.57" y="256.20" width="2.60" height="1.30" fill="#e8735a" />
<rect x="176.40" y="196.30" width="3.20" height="1.70" fill="#fff" />
<text x="116.60" y="263.80" font-family='"Liberation Serif", serif' font-size="6.2" font-weight="bold" font-style="normal" text-anchor="middle" fill="#111" stroke="#111" stroke-width="0.12">J</text>
<text x="122.87" y="263.80" font-family='"Liberation Serif", serif' font-size="6.2" font-weight="bold" font-style="normal" text-anchor="middle" fill="#111" stroke="#111" stroke-width="0.12">G</text>
<text x="129.14" y="263.80" font-family='"Liberation Serif", serif' font-size="6.2" font-weight="bold" font-style="normal" text-anchor="middle" fill="#111" stroke="#111" stroke-width="0.12">C</text>
<text x="135.41" y="263.80" font-family='"Liberation Serif", serif' font-size="6.2" font-weight="bold" font-style="normal" text-anchor="middle" fill="#111" stroke="#111" stroke-width="0.12">I</text>
<text x="141.68" y="263.80" font-family='"Liberation Serif", serif' font-size="6.2" font-weight="bold" font-style="normal" text-anchor="middle" fill="#111" stroke="#111" stroke-width="0.12">L</text>
<text x="147.95" y="263.80" font-family='"Liberation Serif", serif' font-size="6.2" font-weight="bold" font-style="normal" text-anchor="middle" fill="#111" stroke="#111" stroke-width="0.12">H</text>
<text x="154.22" y="263.80" font-family='"Liberation Serif", serif' font-size="6.2" font-weight="bold" font-style="normal" text-anchor="middle" fill="#111" stroke="#111" stroke-width="0.12">K</text>
<text x="160.49" y="263.80" font-family='"Liberation Serif", serif' font-size="6.2" font-weight="bold" font-style="normal" text-anchor="middle" fill="#111" stroke="#111" stroke-width="0.12">F</text>
<text x="166.76" y="263.80" font-family='"Liberation Serif", serif' font-size="6.2" font-weight="bold" font-style="normal" text-anchor="middle" fill="#111" stroke="#111" stroke-width="0.12">B</text>
<text x="173.03" y="263.80" font-family='"Liberation Serif", serif' font-size="6.2" font-weight="bold" font-style="normal" text-anchor="middle" fill="#111" stroke="#111" stroke-width="0.12">N</text>
<text x="179.30" y="263.80" font-family='"Liberation Serif", serif' font-size="6.2" font-weight="bold" font-style="normal" text-anchor="middle" fill="#111" stroke="#111" stroke-width="0.12">A</text>
<text x="185.57" y="263.80" font-family='"Liberation Serif", serif' font-size="6.2" font-weight="bold" font-style="normal" text-anchor="middle" fill="#111" stroke="#111" stroke-width="0.12">D</text>
<text x="146.50" y="273.00" font-family='"Liberation Serif", serif' font-size="7.7" font-weight="bold" font-style="normal" text-anchor="middle" fill="#111"  stroke="#111" stroke-width="0.169">River</text>
<text x="151.00" y="281.00" font-family='"Liberation Serif", serif' font-size="7.7" font-weight="bold" font-style="normal" text-anchor="middle" fill="#111"  stroke="#111" stroke-width="0.169">mid frequence</text>
<rect x="196.30" y="238.90" width="2.60" height="18.50" fill="#2e8b7c" />
<rect x="198.90" y="247.20" width="2.60" height="10.20" fill="#e8735a" />
<rect x="202.57" y="232.10" width="2.60" height="25.30" fill="#2e8b7c" />
<rect x="205.17" y="244.90" width="2.60" height="12.50" fill="#e8735a" />
<rect x="208.84" y="245.70" width="2.60" height="11.70" fill="#2e8b7c" />
<rect x="211.44" y="209.70" width="2.60" height="47.70" fill="#e8735a" />
<rect x="215.11" y="241.60" width="2.60" height="15.80" fill="#2e8b7c" />
<rect x="217.71" y="238.40" width="2.60" height="19.00" fill="#e8735a" />
<rect x="221.38" y="248.00" width="2.60" height="9.40" fill="#2e8b7c" />
<rect x="223.98" y="240.00" width="2.60" height="17.40" fill="#e8735a" />
<rect x="227.65" y="253.20" width="2.60" height="4.20" fill="#2e8b7c" />
<rect x="230.25" y="239.00" width="2.60" height="18.40" fill="#e8735a" />
<rect x="233.92" y="238.60" width="2.60" height="18.80" fill="#2e8b7c" />
<rect x="236.52" y="254.70" width="2.60" height="2.70" fill="#e8735a" />
<rect x="240.19" y="252.00" width="2.60" height="5.40" fill="#2e8b7c" />
<rect x="242.79" y="252.60" width="2.60" height="4.80" fill="#e8735a" />
<rect x="246.46" y="198.10" width="2.60" height="59.30" fill="#2e8b7c" />
<rect x="249.06" y="198.10" width="2.60" height="59.30" fill="#e8735a" />
<rect x="252.73" y="257.50" width="2.60" height="-0.10" fill="#2e8b7c" />
<rect x="255.33" y="257.50" width="2.60" height="-0.10" fill="#e8735a" />
<rect x="259.00" y="175.30" width="2.60" height="82.10" fill="#2e8b7c" />
<rect x="261.60" y="238.10" width="2.60" height="19.30" fill="#e8735a" />
<rect x="265.27" y="235.30" width="2.60" height="22.10" fill="#2e8b7c" />
<rect x="267.87" y="253.90" width="2.60" height="3.50" fill="#e8735a" />
<rect x="258.70" y="196.30" width="3.20" height="1.70" fill="#fff" />
<text x="198.90" y="263.80" font-family='"Liberation Serif", serif' font-size="6.2" font-weight="bold" font-style="normal" text-anchor="middle" fill="#111" stroke="#111" stroke-width="0.12">J</text>
<text x="205.17" y="263.80" font-family='"Liberation Serif", serif' font-size="6.2" font-weight="bold" font-style="normal" text-anchor="middle" fill="#111" stroke="#111" stroke-width="0.12">G</text>
<text x="211.44" y="263.80" font-family='"Liberation Serif", serif' font-size="6.2" font-weight="bold" font-style="normal" text-anchor="middle" fill="#111" stroke="#111" stroke-width="0.12">C</text>
<text x="217.71" y="263.80" font-family='"Liberation Serif", serif' font-size="6.2" font-weight="bold" font-style="normal" text-anchor="middle" fill="#111" stroke="#111" stroke-width="0.12">I</text>
<text x="223.98" y="263.80" font-family='"Liberation Serif", serif' font-size="6.2" font-weight="bold" font-style="normal" text-anchor="middle" fill="#111" stroke="#111" stroke-width="0.12">L</text>
<text x="230.25" y="263.80" font-family='"Liberation Serif", serif' font-size="6.2" font-weight="bold" font-style="normal" text-anchor="middle" fill="#111" stroke="#111" stroke-width="0.12">H</text>
<text x="236.52" y="263.80" font-family='"Liberation Serif", serif' font-size="6.2" font-weight="bold" font-style="normal" text-anchor="middle" fill="#111" stroke="#111" stroke-width="0.12">K</text>
<text x="242.79" y="263.80" font-family='"Liberation Serif", serif' font-size="6.2" font-weight="bold" font-style="normal" text-anchor="middle" fill="#111" stroke="#111" stroke-width="0.12">F</text>
<text x="249.06" y="263.80" font-family='"Liberation Serif", serif' font-size="6.2" font-weight="bold" font-style="normal" text-anchor="middle" fill="#111" stroke="#111" stroke-width="0.12">B</text>
<text x="255.33" y="263.80" font-family='"Liberation Serif", serif' font-size="6.2" font-weight="bold" font-style="normal" text-anchor="middle" fill="#111" stroke="#111" stroke-width="0.12">N</text>
<text x="261.60" y="263.80" font-family='"Liberation Serif", serif' font-size="6.2" font-weight="bold" font-style="normal" text-anchor="middle" fill="#111" stroke="#111" stroke-width="0.12">A</text>
<text x="267.87" y="263.80" font-family='"Liberation Serif", serif' font-size="6.2" font-weight="bold" font-style="normal" text-anchor="middle" fill="#111" stroke="#111" stroke-width="0.12">D</text>
<text x="229.05" y="273.00" font-family='"Liberation Serif", serif' font-size="7.7" font-weight="bold" font-style="normal" text-anchor="middle" fill="#111"  stroke="#111" stroke-width="0.169">River</text>
<text x="233.55" y="281.00" font-family='"Liberation Serif", serif' font-size="7.7" font-weight="bold" font-style="normal" text-anchor="middle" fill="#111"  stroke="#111" stroke-width="0.169">low frequence</text>
<text x="278.40" y="162.90" font-family='"Liberation Serif", serif' font-size="10.5" font-weight="bold" font-style="normal" text-anchor="start" fill="#111"  stroke="#111" stroke-width="0.231">d</text>
<rect x="288.90" y="150.70" width="13.70" height="6.70" fill="#2e8b7c" />
<text x="303.90" y="156.40" font-family='"Liberation Serif", serif' font-size="5.97" font-weight="normal" font-style="italic" text-anchor="start" fill="#111" stroke="#111" stroke-width="0.21">Shrubland</text>
<line x1="329.08" y1="154.61" x2="333.85" y2="154.61" stroke="#111" stroke-width="0.42"/>
<polygon points="334.45,154.61 332.78,153.65 332.78,155.56" fill="#111"/>
<text x="334.75" y="156.40" font-family='"Liberation Serif", serif' font-size="5.97" font-weight="normal" font-style="italic" text-anchor="start" fill="#111" stroke="#111" stroke-width="0.21">P. euphratica</text>
<rect x="368.90" y="151.00" width="13.70" height="6.40" fill="#e8735a" />
<text x="384.20" y="156.40" font-family='"Liberation Serif", serif' font-size="5.97" font-weight="normal" font-style="italic" text-anchor="start" fill="#111" stroke="#111" stroke-width="0.21">P. euphratica</text>
<line x1="416.23" y1="154.61" x2="421.00" y2="154.61" stroke="#111" stroke-width="0.42"/>
<polygon points="421.60,154.61 419.93,153.65 419.93,155.56" fill="#111"/>
<text x="421.90" y="156.40" font-family='"Liberation Serif", serif' font-size="5.97" font-weight="normal" font-style="italic" text-anchor="start" fill="#111" stroke="#111" stroke-width="0.21">Shrubland</text>
<polyline points="303.50,283.0 303.50,162.5 385.60,162.5 385.60,283.0" fill="none" stroke="#555" stroke-width="1.0"/>
<line x1="303.50" y1="258.10" x2="385.60" y2="258.10" stroke="#333" stroke-width="1.0" />
<polyline points="391.60,283.0 391.60,162.5 466.50,162.5 466.50,283.0" fill="none" stroke="#555" stroke-width="1.0"/>
<line x1="391.60" y1="258.10" x2="466.50" y2="258.10" stroke="#333" stroke-width="1.0" />
<polyline points="472.30,283.0 472.30,162.5 547.30,162.5 547.30,283.0" fill="none" stroke="#555" stroke-width="1.0"/>
<line x1="472.30" y1="258.10" x2="547.30" y2="258.10" stroke="#333" stroke-width="1.0" />
<line x1="303.50" y1="274.00" x2="547.30" y2="274.00" stroke="#555" stroke-width="1.0" />
<text x="302.60" y="165.00" font-family='"Liberation Serif", serif' font-size="7.6" font-weight="bold" font-style="normal" text-anchor="end" fill="#111"  stroke="#111" stroke-width="0.167">400</text>
<line x1="302.30" y1="162.40" x2="303.50" y2="162.40" stroke="#555" stroke-width="0.6" />
<line x1="390.40" y1="162.40" x2="391.60" y2="162.40" stroke="#555" stroke-width="0.6" />
<line x1="471.10" y1="162.40" x2="472.30" y2="162.40" stroke="#555" stroke-width="0.6" />
<text x="302.60" y="188.90" font-family='"Liberation Serif", serif' font-size="7.6" font-weight="bold" font-style="normal" text-anchor="end" fill="#111"  stroke="#111" stroke-width="0.167">300</text>
<line x1="302.30" y1="186.30" x2="303.50" y2="186.30" stroke="#555" stroke-width="0.6" />
<line x1="390.40" y1="186.30" x2="391.60" y2="186.30" stroke="#555" stroke-width="0.6" />
<line x1="471.10" y1="186.30" x2="472.30" y2="186.30" stroke="#555" stroke-width="0.6" />
<text x="302.60" y="212.90" font-family='"Liberation Serif", serif' font-size="7.6" font-weight="bold" font-style="normal" text-anchor="end" fill="#111"  stroke="#111" stroke-width="0.167">200</text>
<line x1="302.30" y1="210.30" x2="303.50" y2="210.30" stroke="#555" stroke-width="0.6" />
<line x1="390.40" y1="210.30" x2="391.60" y2="210.30" stroke="#555" stroke-width="0.6" />
<line x1="471.10" y1="210.30" x2="472.30" y2="210.30" stroke="#555" stroke-width="0.6" />
<text x="302.60" y="236.90" font-family='"Liberation Serif", serif' font-size="7.6" font-weight="bold" font-style="normal" text-anchor="end" fill="#111"  stroke="#111" stroke-width="0.167">100</text>
<line x1="302.30" y1="234.30" x2="303.50" y2="234.30" stroke="#555" stroke-width="0.6" />
<line x1="390.40" y1="234.30" x2="391.60" y2="234.30" stroke="#555" stroke-width="0.6" />
<line x1="471.10" y1="234.30" x2="472.30" y2="234.30" stroke="#555" stroke-width="0.6" />
<text x="302.60" y="260.90" font-family='"Liberation Serif", serif' font-size="7.6" font-weight="bold" font-style="normal" text-anchor="end" fill="#111"  stroke="#111" stroke-width="0.167">0</text>
<line x1="302.30" y1="258.30" x2="303.50" y2="258.30" stroke="#555" stroke-width="0.6" />
<line x1="390.40" y1="258.30" x2="391.60" y2="258.30" stroke="#555" stroke-width="0.6" />
<line x1="471.10" y1="258.30" x2="472.30" y2="258.30" stroke="#555" stroke-width="0.6" />
<text transform="translate(289.4,211.5) rotate(-90)" font-family='"Liberation Serif", serif' font-size="8.2" font-weight="bold" text-anchor="middle" fill="#111">Area (km<tspan font-size="5.4" dy="-3.4">2</tspan><tspan dy="3.4">)</tspan></text>
<rect x="304.30" y="248.00" width="2.80" height="10.10" fill="#2e8b7c" />
<rect x="307.10" y="227.00" width="2.80" height="31.10" fill="#e8735a" />
<rect x="311.40" y="248.80" width="2.80" height="9.30" fill="#2e8b7c" />
<rect x="314.20" y="241.70" width="2.80" height="16.40" fill="#e8735a" />
<rect x="318.50" y="249.10" width="2.80" height="9.00" fill="#2e8b7c" />
<rect x="321.30" y="247.60" width="2.80" height="10.50" fill="#e8735a" />
<rect x="325.60" y="250.10" width="2.80" height="8.00" fill="#2e8b7c" />
<rect x="328.40" y="255.10" width="2.80" height="3.00" fill="#e8735a" />
<rect x="332.70" y="248.80" width="2.80" height="9.30" fill="#2e8b7c" />
<rect x="335.50" y="256.20" width="2.80" height="1.90" fill="#e8735a" />
<rect x="339.80" y="251.00" width="2.80" height="7.10" fill="#2e8b7c" />
<rect x="342.60" y="255.50" width="2.80" height="2.60" fill="#e8735a" />
<rect x="346.90" y="236.80" width="2.80" height="21.30" fill="#2e8b7c" />
<rect x="349.70" y="248.80" width="2.80" height="9.30" fill="#e8735a" />
<rect x="354.00" y="226.70" width="2.80" height="31.40" fill="#2e8b7c" />
<rect x="356.80" y="249.10" width="2.80" height="9.00" fill="#e8735a" />
<rect x="361.10" y="238.90" width="2.80" height="19.20" fill="#2e8b7c" />
<rect x="363.90" y="254.30" width="2.80" height="3.80" fill="#e8735a" />
<rect x="368.20" y="202.20" width="2.80" height="55.90" fill="#2e8b7c" />
<rect x="371.00" y="250.40" width="2.80" height="7.70" fill="#e8735a" />
<rect x="375.30" y="213.90" width="2.80" height="44.20" fill="#2e8b7c" />
<rect x="378.10" y="229.10" width="2.80" height="29.00" fill="#e8735a" />
<text x="307.10" y="264.80" font-family='"Liberation Serif", serif' font-size="6.6" font-weight="bold" font-style="normal" text-anchor="middle" fill="#111" letter-spacing="-0.45" stroke="#111" stroke-width="0.12">0.5</text>
<text x="314.20" y="264.80" font-family='"Liberation Serif", serif' font-size="6.6" font-weight="bold" font-style="normal" text-anchor="middle" fill="#111" letter-spacing="-0.45" stroke="#111" stroke-width="0.12">1</text>
<text x="321.30" y="264.80" font-family='"Liberation Serif", serif' font-size="6.6" font-weight="bold" font-style="normal" text-anchor="middle" fill="#111" letter-spacing="-0.45" stroke="#111" stroke-width="0.12">1.5</text>
<text x="328.40" y="264.80" font-family='"Liberation Serif", serif' font-size="6.6" font-weight="bold" font-style="normal" text-anchor="middle" fill="#111" letter-spacing="-0.45" stroke="#111" stroke-width="0.12">2</text>
<text x="335.50" y="264.80" font-family='"Liberation Serif", serif' font-size="6.6" font-weight="bold" font-style="normal" text-anchor="middle" fill="#111" letter-spacing="-0.45" stroke="#111" stroke-width="0.12">2.5</text>
<text x="342.60" y="264.80" font-family='"Liberation Serif", serif' font-size="6.6" font-weight="bold" font-style="normal" text-anchor="middle" fill="#111" letter-spacing="-0.45" stroke="#111" stroke-width="0.12">3</text>
<text x="349.70" y="264.80" font-family='"Liberation Serif", serif' font-size="6.6" font-weight="bold" font-style="normal" text-anchor="middle" fill="#111" letter-spacing="-0.45" stroke="#111" stroke-width="0.12">4</text>
<text x="356.80" y="264.80" font-family='"Liberation Serif", serif' font-size="6.6" font-weight="bold" font-style="normal" text-anchor="middle" fill="#111" letter-spacing="-0.45" stroke="#111" stroke-width="0.12">5</text>
<text x="363.90" y="264.80" font-family='"Liberation Serif", serif' font-size="6.6" font-weight="bold" font-style="normal" text-anchor="middle" fill="#111" letter-spacing="-0.45" stroke="#111" stroke-width="0.12">6</text>
<text x="371.00" y="264.80" font-family='"Liberation Serif", serif' font-size="6.6" font-weight="bold" font-style="normal" text-anchor="middle" fill="#111" letter-spacing="-0.45" stroke="#111" stroke-width="0.12">8</text>
<text x="378.10" y="264.80" font-family='"Liberation Serif", serif' font-size="6.6" font-weight="bold" font-style="normal" text-anchor="middle" fill="#111" letter-spacing="-0.45" stroke="#111" stroke-width="0.12">10</text>
<text x="344.85" y="272.00" font-family='"Liberation Serif", serif' font-size="6.74" font-weight="bold" font-style="normal" text-anchor="middle" fill="#111"  stroke="#111" stroke-width="0.148">River Distance (km)</text>
<text x="343.75" y="281.60" font-family='"Liberation Serif", serif' font-size="7.7" font-weight="bold" font-style="normal" text-anchor="middle" fill="#111"  stroke="#111" stroke-width="0.169">high frequence</text>
<rect x="392.00" y="240.50" width="2.70" height="17.60" fill="#2e8b7c" />
<rect x="394.70" y="233.00" width="2.70" height="25.10" fill="#e8735a" />
<rect x="398.51" y="244.10" width="2.70" height="14.00" fill="#2e8b7c" />
<rect x="401.21" y="240.80" width="2.70" height="17.30" fill="#e8735a" />
<rect x="405.02" y="238.10" width="2.70" height="20.00" fill="#2e8b7c" />
<rect x="407.72" y="240.00" width="2.70" height="18.10" fill="#e8735a" />
<rect x="411.53" y="243.90" width="2.70" height="14.20" fill="#2e8b7c" />
<rect x="414.23" y="248.00" width="2.70" height="10.10" fill="#e8735a" />
<rect x="418.04" y="240.90" width="2.70" height="17.20" fill="#2e8b7c" />
<rect x="420.74" y="251.00" width="2.70" height="7.10" fill="#e8735a" />
<rect x="424.55" y="243.10" width="2.70" height="15.00" fill="#2e8b7c" />
<rect x="427.25" y="251.50" width="2.70" height="6.60" fill="#e8735a" />
<rect x="431.06" y="223.40" width="2.70" height="34.70" fill="#2e8b7c" />
<rect x="433.76" y="246.00" width="2.70" height="12.10" fill="#e8735a" />
<rect x="437.57" y="229.90" width="2.70" height="28.20" fill="#2e8b7c" />
<rect x="440.27" y="239.70" width="2.70" height="18.40" fill="#e8735a" />
<rect x="444.08" y="224.20" width="2.70" height="33.90" fill="#2e8b7c" />
<rect x="446.78" y="245.50" width="2.70" height="12.60" fill="#e8735a" />
<rect x="450.59" y="186.00" width="2.70" height="72.10" fill="#2e8b7c" />
<rect x="453.29" y="233.80" width="2.70" height="24.30" fill="#e8735a" />
<rect x="457.10" y="200.20" width="2.70" height="57.90" fill="#2e8b7c" />
<rect x="459.80" y="212.30" width="2.70" height="45.80" fill="#e8735a" />
<text x="394.70" y="264.80" font-family='"Liberation Serif", serif' font-size="6.5" font-weight="bold" font-style="normal" text-anchor="middle" fill="#111" letter-spacing="-0.45" stroke="#111" stroke-width="0.12">0.5</text>
<text x="401.21" y="264.80" font-family='"Liberation Serif", serif' font-size="6.5" font-weight="bold" font-style="normal" text-anchor="middle" fill="#111" letter-spacing="-0.45" stroke="#111" stroke-width="0.12">1</text>
<text x="407.72" y="264.80" font-family='"Liberation Serif", serif' font-size="6.5" font-weight="bold" font-style="normal" text-anchor="middle" fill="#111" letter-spacing="-0.45" stroke="#111" stroke-width="0.12">1.5</text>
<text x="414.23" y="264.80" font-family='"Liberation Serif", serif' font-size="6.5" font-weight="bold" font-style="normal" text-anchor="middle" fill="#111" letter-spacing="-0.45" stroke="#111" stroke-width="0.12">2</text>
<text x="420.74" y="264.80" font-family='"Liberation Serif", serif' font-size="6.5" font-weight="bold" font-style="normal" text-anchor="middle" fill="#111" letter-spacing="-0.45" stroke="#111" stroke-width="0.12">2.5</text>
<text x="427.25" y="264.80" font-family='"Liberation Serif", serif' font-size="6.5" font-weight="bold" font-style="normal" text-anchor="middle" fill="#111" letter-spacing="-0.45" stroke="#111" stroke-width="0.12">3</text>
<text x="433.76" y="264.80" font-family='"Liberation Serif", serif' font-size="6.5" font-weight="bold" font-style="normal" text-anchor="middle" fill="#111" letter-spacing="-0.45" stroke="#111" stroke-width="0.12">4</text>
<text x="440.27" y="264.80" font-family='"Liberation Serif", serif' font-size="6.5" font-weight="bold" font-style="normal" text-anchor="middle" fill="#111" letter-spacing="-0.45" stroke="#111" stroke-width="0.12">5</text>
<text x="446.78" y="264.80" font-family='"Liberation Serif", serif' font-size="6.5" font-weight="bold" font-style="normal" text-anchor="middle" fill="#111" letter-spacing="-0.45" stroke="#111" stroke-width="0.12">6</text>
<text x="453.29" y="264.80" font-family='"Liberation Serif", serif' font-size="6.5" font-weight="bold" font-style="normal" text-anchor="middle" fill="#111" letter-spacing="-0.45" stroke="#111" stroke-width="0.12">8</text>
<text x="459.80" y="264.80" font-family='"Liberation Serif", serif' font-size="6.5" font-weight="bold" font-style="normal" text-anchor="middle" fill="#111" letter-spacing="-0.45" stroke="#111" stroke-width="0.12">10</text>
<text x="429.35" y="272.00" font-family='"Liberation Serif", serif' font-size="6.74" font-weight="bold" font-style="normal" text-anchor="middle" fill="#111"  stroke="#111" stroke-width="0.148">River Distance (km)</text>
<text x="428.25" y="281.60" font-family='"Liberation Serif", serif' font-size="7.7" font-weight="bold" font-style="normal" text-anchor="middle" fill="#111"  stroke="#111" stroke-width="0.169">mid frequence</text>
<rect x="473.00" y="240.00" width="2.70" height="18.10" fill="#2e8b7c" />
<rect x="475.70" y="215.20" width="2.70" height="42.90" fill="#e8735a" />
<rect x="479.47" y="235.40" width="2.70" height="22.70" fill="#2e8b7c" />
<rect x="482.17" y="230.70" width="2.70" height="27.40" fill="#e8735a" />
<rect x="485.94" y="236.00" width="2.70" height="22.10" fill="#2e8b7c" />
<rect x="488.64" y="237.30" width="2.70" height="20.80" fill="#e8735a" />
<rect x="492.41" y="240.00" width="2.70" height="18.10" fill="#2e8b7c" />
<rect x="495.11" y="244.40" width="2.70" height="13.70" fill="#e8735a" />
<rect x="498.88" y="236.80" width="2.70" height="21.30" fill="#2e8b7c" />
<rect x="501.58" y="249.50" width="2.70" height="8.60" fill="#e8735a" />
<rect x="505.35" y="237.00" width="2.70" height="21.10" fill="#2e8b7c" />
<rect x="508.05" y="248.80" width="2.70" height="9.30" fill="#e8735a" />
<rect x="511.82" y="219.20" width="2.70" height="38.90" fill="#2e8b7c" />
<rect x="514.52" y="240.00" width="2.70" height="18.10" fill="#e8735a" />
<rect x="518.29" y="215.20" width="2.70" height="42.90" fill="#2e8b7c" />
<rect x="520.99" y="242.00" width="2.70" height="16.10" fill="#e8735a" />
<rect x="524.76" y="217.90" width="2.70" height="40.20" fill="#2e8b7c" />
<rect x="527.46" y="236.50" width="2.70" height="21.60" fill="#e8735a" />
<rect x="531.23" y="178.90" width="2.70" height="79.20" fill="#2e8b7c" />
<rect x="533.93" y="208.10" width="2.70" height="50.00" fill="#e8735a" />
<rect x="537.70" y="198.30" width="2.70" height="59.80" fill="#2e8b7c" />
<rect x="540.40" y="207.00" width="2.70" height="51.10" fill="#e8735a" />
<text x="475.70" y="264.80" font-family='"Liberation Serif", serif' font-size="6.5" font-weight="bold" font-style="normal" text-anchor="middle" fill="#111" letter-spacing="-0.45" stroke="#111" stroke-width="0.12">0.5</text>
<text x="482.17" y="264.80" font-family='"Liberation Serif", serif' font-size="6.5" font-weight="bold" font-style="normal" text-anchor="middle" fill="#111" letter-spacing="-0.45" stroke="#111" stroke-width="0.12">1</text>
<text x="488.64" y="264.80" font-family='"Liberation Serif", serif' font-size="6.5" font-weight="bold" font-style="normal" text-anchor="middle" fill="#111" letter-spacing="-0.45" stroke="#111" stroke-width="0.12">1.5</text>
<text x="495.11" y="264.80" font-family='"Liberation Serif", serif' font-size="6.5" font-weight="bold" font-style="normal" text-anchor="middle" fill="#111" letter-spacing="-0.45" stroke="#111" stroke-width="0.12">2</text>
<text x="501.58" y="264.80" font-family='"Liberation Serif", serif' font-size="6.5" font-weight="bold" font-style="normal" text-anchor="middle" fill="#111" letter-spacing="-0.45" stroke="#111" stroke-width="0.12">2.5</text>
<text x="508.05" y="264.80" font-family='"Liberation Serif", serif' font-size="6.5" font-weight="bold" font-style="normal" text-anchor="middle" fill="#111" letter-spacing="-0.45" stroke="#111" stroke-width="0.12">3</text>
<text x="514.52" y="264.80" font-family='"Liberation Serif", serif' font-size="6.5" font-weight="bold" font-style="normal" text-anchor="middle" fill="#111" letter-spacing="-0.45" stroke="#111" stroke-width="0.12">4</text>
<text x="520.99" y="264.80" font-family='"Liberation Serif", serif' font-size="6.5" font-weight="bold" font-style="normal" text-anchor="middle" fill="#111" letter-spacing="-0.45" stroke="#111" stroke-width="0.12">5</text>
<text x="527.46" y="264.80" font-family='"Liberation Serif", serif' font-size="6.5" font-weight="bold" font-style="normal" text-anchor="middle" fill="#111" letter-spacing="-0.45" stroke="#111" stroke-width="0.12">6</text>
<text x="533.93" y="264.80" font-family='"Liberation Serif", serif' font-size="6.5" font-weight="bold" font-style="normal" text-anchor="middle" fill="#111" letter-spacing="-0.45" stroke="#111" stroke-width="0.12">8</text>
<text x="540.40" y="264.80" font-family='"Liberation Serif", serif' font-size="6.5" font-weight="bold" font-style="normal" text-anchor="middle" fill="#111" letter-spacing="-0.45" stroke="#111" stroke-width="0.12">10</text>
<text x="510.10" y="272.00" font-family='"Liberation Serif", serif' font-size="6.74" font-weight="bold" font-style="normal" text-anchor="middle" fill="#111"  stroke="#111" stroke-width="0.148">River Distance (km)</text>
<text x="509.00" y="281.60" font-family='"Liberation Serif", serif' font-size="7.7" font-weight="bold" font-style="normal" text-anchor="middle" fill="#111"  stroke="#111" stroke-width="0.169">low frequence</text>
</svg>
</body></html>
